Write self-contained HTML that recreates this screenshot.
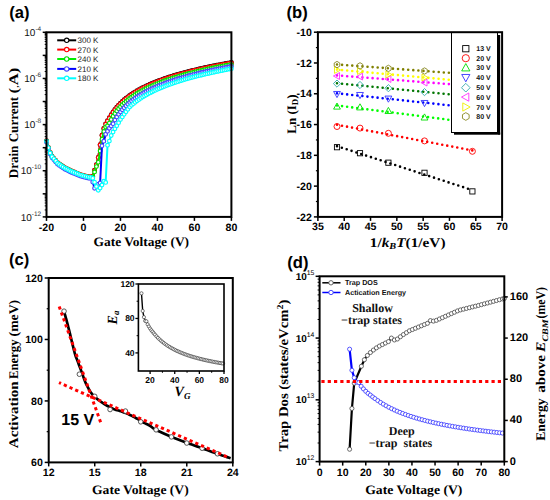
<!DOCTYPE html>
<html><head><meta charset="utf-8"><style>
html,body{margin:0;padding:0;background:#fff;}
svg{display:block;}
</style></head><body>
<svg width="550" height="500" viewBox="0 0 550 500" style="text-rendering:geometricPrecision">
<rect width="550" height="500" fill="#fff"/>
<text x="9.2" y="18.2" font-family='"Liberation Sans", sans-serif' font-size="16.6" font-weight="bold" text-anchor="start" fill="#000" >(a)</text>
<polyline points="46.5,141.21 48.35,147.83 50.2,152.98 52.05,156.67 53.9,158.83 55.74,160.98 57.59,163.14 59.44,164.41 61.29,165.69 63.14,166.96 64.99,168.16 66.84,169.07 68.69,169.98 70.54,170.9 72.39,171.75 74.23,172.52 76.08,173.29 77.93,174.06 79.78,174.83 81.63,175.35 83.48,175.86 85.33,176.36 87.18,176.86 89.03,177.28 90.88,177.53 92.72,176.25 94.57,170.29 96.42,164.64 98.27,157.39 100.12,144.69 101.97,135.2 103.82,128.57 105.67,124.02 107.52,120.79 109.37,117.77 111.22,114.63 113.06,111.85 114.91,109.37 116.76,107.13 118.61,105.08 120.46,103.19 122.31,101.45 124.16,99.82 126.01,98.3 127.86,96.87 129.7,95.53 131.55,94.25 133.4,93.05 135.25,91.9 137.1,90.8 138.95,89.76 140.8,88.75 142.65,87.79 144.5,86.87 146.35,85.98 148.19,85.12 150.04,84.3 151.89,83.5 153.74,82.73 155.59,81.98 157.44,81.25 159.29,80.55 161.14,79.87 162.99,79.2 164.84,78.56 166.69,77.93 168.53,77.32 170.38,76.72 172.23,76.14 174.08,75.57 175.93,75.02 177.78,74.48 179.63,73.95 181.48,73.43 183.33,72.93 185.18,72.43 187.02,71.94 188.87,71.47 190.72,71 192.57,70.54 194.42,70.1 196.27,69.66 198.12,69.22 199.97,68.8 201.82,68.38 203.66,67.97 205.51,67.57 207.36,67.17 209.21,66.79 211.06,66.4 212.91,66.03 214.76,65.65 216.61,65.29 218.46,64.93 220.31,64.58 222.16,64.23 224,63.88 225.85,63.54 227.7,63.21 229.55,62.88 231.4,62.56" fill="none" stroke="#000000" stroke-width="2.0" stroke-linejoin="round" />
<g fill="#fff" stroke="#000000" stroke-width="1.2">
<circle cx="46.5" cy="141.21" r="1.85"/>
<circle cx="48.35" cy="147.83" r="1.85"/>
<circle cx="50.2" cy="152.98" r="1.85"/>
<circle cx="52.05" cy="156.67" r="1.85"/>
<circle cx="53.9" cy="158.83" r="1.85"/>
<circle cx="55.74" cy="160.98" r="1.85"/>
<circle cx="57.59" cy="163.14" r="1.85"/>
<circle cx="59.44" cy="164.41" r="1.85"/>
<circle cx="61.29" cy="165.69" r="1.85"/>
<circle cx="63.14" cy="166.96" r="1.85"/>
<circle cx="64.99" cy="168.16" r="1.85"/>
<circle cx="66.84" cy="169.07" r="1.85"/>
<circle cx="68.69" cy="169.98" r="1.85"/>
<circle cx="70.54" cy="170.9" r="1.85"/>
<circle cx="72.39" cy="171.75" r="1.85"/>
<circle cx="74.23" cy="172.52" r="1.85"/>
<circle cx="76.08" cy="173.29" r="1.85"/>
<circle cx="77.93" cy="174.06" r="1.85"/>
<circle cx="79.78" cy="174.83" r="1.85"/>
<circle cx="81.63" cy="175.35" r="1.85"/>
<circle cx="83.48" cy="175.86" r="1.85"/>
<circle cx="85.33" cy="176.36" r="1.85"/>
<circle cx="87.18" cy="176.86" r="1.85"/>
<circle cx="89.03" cy="177.28" r="1.85"/>
<circle cx="90.88" cy="177.53" r="1.85"/>
<circle cx="92.72" cy="176.25" r="1.85"/>
<circle cx="94.57" cy="170.29" r="1.85"/>
<circle cx="96.42" cy="164.64" r="1.85"/>
<circle cx="98.27" cy="157.39" r="1.85"/>
<circle cx="100.12" cy="144.69" r="1.85"/>
<circle cx="101.97" cy="135.2" r="1.85"/>
<circle cx="103.82" cy="128.57" r="1.85"/>
<circle cx="105.67" cy="124.02" r="1.85"/>
<circle cx="107.52" cy="120.79" r="1.85"/>
<circle cx="109.37" cy="117.77" r="1.85"/>
<circle cx="111.22" cy="114.63" r="1.85"/>
<circle cx="113.06" cy="111.85" r="1.85"/>
<circle cx="114.91" cy="109.37" r="1.85"/>
<circle cx="116.76" cy="107.13" r="1.85"/>
<circle cx="118.61" cy="105.08" r="1.85"/>
<circle cx="120.46" cy="103.19" r="1.85"/>
<circle cx="122.31" cy="101.45" r="1.85"/>
<circle cx="124.16" cy="99.82" r="1.85"/>
<circle cx="126.01" cy="98.3" r="1.85"/>
<circle cx="127.86" cy="96.87" r="1.85"/>
<circle cx="129.7" cy="95.53" r="1.85"/>
<circle cx="131.55" cy="94.25" r="1.85"/>
<circle cx="133.4" cy="93.05" r="1.85"/>
<circle cx="135.25" cy="91.9" r="1.85"/>
<circle cx="137.1" cy="90.8" r="1.85"/>
<circle cx="138.95" cy="89.76" r="1.85"/>
<circle cx="140.8" cy="88.75" r="1.85"/>
<circle cx="142.65" cy="87.79" r="1.85"/>
<circle cx="144.5" cy="86.87" r="1.85"/>
<circle cx="146.35" cy="85.98" r="1.85"/>
<circle cx="148.19" cy="85.12" r="1.85"/>
<circle cx="150.04" cy="84.3" r="1.85"/>
<circle cx="151.89" cy="83.5" r="1.85"/>
<circle cx="153.74" cy="82.73" r="1.85"/>
<circle cx="155.59" cy="81.98" r="1.85"/>
<circle cx="157.44" cy="81.25" r="1.85"/>
<circle cx="159.29" cy="80.55" r="1.85"/>
<circle cx="161.14" cy="79.87" r="1.85"/>
<circle cx="162.99" cy="79.2" r="1.85"/>
<circle cx="164.84" cy="78.56" r="1.85"/>
<circle cx="166.69" cy="77.93" r="1.85"/>
<circle cx="168.53" cy="77.32" r="1.85"/>
<circle cx="170.38" cy="76.72" r="1.85"/>
<circle cx="172.23" cy="76.14" r="1.85"/>
<circle cx="174.08" cy="75.57" r="1.85"/>
<circle cx="175.93" cy="75.02" r="1.85"/>
<circle cx="177.78" cy="74.48" r="1.85"/>
<circle cx="179.63" cy="73.95" r="1.85"/>
<circle cx="181.48" cy="73.43" r="1.85"/>
<circle cx="183.33" cy="72.93" r="1.85"/>
<circle cx="185.18" cy="72.43" r="1.85"/>
<circle cx="187.02" cy="71.94" r="1.85"/>
<circle cx="188.87" cy="71.47" r="1.85"/>
<circle cx="190.72" cy="71" r="1.85"/>
<circle cx="192.57" cy="70.54" r="1.85"/>
<circle cx="194.42" cy="70.1" r="1.85"/>
<circle cx="196.27" cy="69.66" r="1.85"/>
<circle cx="198.12" cy="69.22" r="1.85"/>
<circle cx="199.97" cy="68.8" r="1.85"/>
<circle cx="201.82" cy="68.38" r="1.85"/>
<circle cx="203.66" cy="67.97" r="1.85"/>
<circle cx="205.51" cy="67.57" r="1.85"/>
<circle cx="207.36" cy="67.17" r="1.85"/>
<circle cx="209.21" cy="66.79" r="1.85"/>
<circle cx="211.06" cy="66.4" r="1.85"/>
<circle cx="212.91" cy="66.03" r="1.85"/>
<circle cx="214.76" cy="65.65" r="1.85"/>
<circle cx="216.61" cy="65.29" r="1.85"/>
<circle cx="218.46" cy="64.93" r="1.85"/>
<circle cx="220.31" cy="64.58" r="1.85"/>
<circle cx="222.16" cy="64.23" r="1.85"/>
<circle cx="224" cy="63.88" r="1.85"/>
<circle cx="225.85" cy="63.54" r="1.85"/>
<circle cx="227.7" cy="63.21" r="1.85"/>
<circle cx="229.55" cy="62.88" r="1.85"/>
<circle cx="231.4" cy="62.56" r="1.85"/>
</g>
<polyline points="46.5,140.75 48.35,147.37 50.2,152.52 52.05,156.21 53.9,158.37 55.74,160.52 57.59,162.67 59.44,163.95 61.29,165.22 63.14,166.5 64.99,167.7 66.84,168.61 68.69,169.52 70.54,170.43 72.39,171.29 74.23,172.06 76.08,172.83 77.93,173.6 79.78,174.37 81.63,174.89 83.48,175.4 85.33,175.9 87.18,176.4 89.03,176.82 90.88,177.07 92.72,176.1 94.57,170.52 96.42,164.87 98.27,157.62 100.12,144.92 101.97,135.43 103.82,128.8 105.67,124.25 107.52,121.09 109.37,118.23 111.22,115.09 113.06,112.31 114.91,109.83 116.76,107.59 118.61,105.54 120.46,103.65 122.31,101.91 124.16,100.28 126.01,98.76 127.86,97.34 129.7,95.99 131.55,94.72 133.4,93.51 135.25,92.36 137.1,91.26 138.95,90.22 140.8,89.21 142.65,88.25 144.5,87.33 146.35,86.44 148.19,85.58 150.04,84.76 151.89,83.96 153.74,83.19 155.59,82.44 157.44,81.71 159.29,81.01 161.14,80.33 162.99,79.67 164.84,79.02 166.69,78.39 168.53,77.78 170.38,77.18 172.23,76.6 174.08,76.04 175.93,75.48 177.78,74.94 179.63,74.41 181.48,73.89 183.33,73.39 185.18,72.89 187.02,72.41 188.87,71.93 190.72,71.46 192.57,71.01 194.42,70.56 196.27,70.12 198.12,69.68 199.97,69.26 201.82,68.84 203.66,68.43 205.51,68.03 207.36,67.64 209.21,67.25 211.06,66.86 212.91,66.49 214.76,66.12 216.61,65.75 218.46,65.39 220.31,65.04 222.16,64.69 224,64.34 225.85,64.01 227.7,63.67 229.55,63.34 231.4,63.02" fill="none" stroke="#ff0000" stroke-width="2.0" stroke-linejoin="round" />
<g fill="#fff" stroke="#ff0000" stroke-width="1.2">
<circle cx="46.5" cy="140.75" r="1.85"/>
<circle cx="48.35" cy="147.37" r="1.85"/>
<circle cx="50.2" cy="152.52" r="1.85"/>
<circle cx="52.05" cy="156.21" r="1.85"/>
<circle cx="53.9" cy="158.37" r="1.85"/>
<circle cx="55.74" cy="160.52" r="1.85"/>
<circle cx="57.59" cy="162.67" r="1.85"/>
<circle cx="59.44" cy="163.95" r="1.85"/>
<circle cx="61.29" cy="165.22" r="1.85"/>
<circle cx="63.14" cy="166.5" r="1.85"/>
<circle cx="64.99" cy="167.7" r="1.85"/>
<circle cx="66.84" cy="168.61" r="1.85"/>
<circle cx="68.69" cy="169.52" r="1.85"/>
<circle cx="70.54" cy="170.43" r="1.85"/>
<circle cx="72.39" cy="171.29" r="1.85"/>
<circle cx="74.23" cy="172.06" r="1.85"/>
<circle cx="76.08" cy="172.83" r="1.85"/>
<circle cx="77.93" cy="173.6" r="1.85"/>
<circle cx="79.78" cy="174.37" r="1.85"/>
<circle cx="81.63" cy="174.89" r="1.85"/>
<circle cx="83.48" cy="175.4" r="1.85"/>
<circle cx="85.33" cy="175.9" r="1.85"/>
<circle cx="87.18" cy="176.4" r="1.85"/>
<circle cx="89.03" cy="176.82" r="1.85"/>
<circle cx="90.88" cy="177.07" r="1.85"/>
<circle cx="92.72" cy="176.1" r="1.85"/>
<circle cx="94.57" cy="170.52" r="1.85"/>
<circle cx="96.42" cy="164.87" r="1.85"/>
<circle cx="98.27" cy="157.62" r="1.85"/>
<circle cx="100.12" cy="144.92" r="1.85"/>
<circle cx="101.97" cy="135.43" r="1.85"/>
<circle cx="103.82" cy="128.8" r="1.85"/>
<circle cx="105.67" cy="124.25" r="1.85"/>
<circle cx="107.52" cy="121.09" r="1.85"/>
<circle cx="109.37" cy="118.23" r="1.85"/>
<circle cx="111.22" cy="115.09" r="1.85"/>
<circle cx="113.06" cy="112.31" r="1.85"/>
<circle cx="114.91" cy="109.83" r="1.85"/>
<circle cx="116.76" cy="107.59" r="1.85"/>
<circle cx="118.61" cy="105.54" r="1.85"/>
<circle cx="120.46" cy="103.65" r="1.85"/>
<circle cx="122.31" cy="101.91" r="1.85"/>
<circle cx="124.16" cy="100.28" r="1.85"/>
<circle cx="126.01" cy="98.76" r="1.85"/>
<circle cx="127.86" cy="97.34" r="1.85"/>
<circle cx="129.7" cy="95.99" r="1.85"/>
<circle cx="131.55" cy="94.72" r="1.85"/>
<circle cx="133.4" cy="93.51" r="1.85"/>
<circle cx="135.25" cy="92.36" r="1.85"/>
<circle cx="137.1" cy="91.26" r="1.85"/>
<circle cx="138.95" cy="90.22" r="1.85"/>
<circle cx="140.8" cy="89.21" r="1.85"/>
<circle cx="142.65" cy="88.25" r="1.85"/>
<circle cx="144.5" cy="87.33" r="1.85"/>
<circle cx="146.35" cy="86.44" r="1.85"/>
<circle cx="148.19" cy="85.58" r="1.85"/>
<circle cx="150.04" cy="84.76" r="1.85"/>
<circle cx="151.89" cy="83.96" r="1.85"/>
<circle cx="153.74" cy="83.19" r="1.85"/>
<circle cx="155.59" cy="82.44" r="1.85"/>
<circle cx="157.44" cy="81.71" r="1.85"/>
<circle cx="159.29" cy="81.01" r="1.85"/>
<circle cx="161.14" cy="80.33" r="1.85"/>
<circle cx="162.99" cy="79.67" r="1.85"/>
<circle cx="164.84" cy="79.02" r="1.85"/>
<circle cx="166.69" cy="78.39" r="1.85"/>
<circle cx="168.53" cy="77.78" r="1.85"/>
<circle cx="170.38" cy="77.18" r="1.85"/>
<circle cx="172.23" cy="76.6" r="1.85"/>
<circle cx="174.08" cy="76.04" r="1.85"/>
<circle cx="175.93" cy="75.48" r="1.85"/>
<circle cx="177.78" cy="74.94" r="1.85"/>
<circle cx="179.63" cy="74.41" r="1.85"/>
<circle cx="181.48" cy="73.89" r="1.85"/>
<circle cx="183.33" cy="73.39" r="1.85"/>
<circle cx="185.18" cy="72.89" r="1.85"/>
<circle cx="187.02" cy="72.41" r="1.85"/>
<circle cx="188.87" cy="71.93" r="1.85"/>
<circle cx="190.72" cy="71.46" r="1.85"/>
<circle cx="192.57" cy="71.01" r="1.85"/>
<circle cx="194.42" cy="70.56" r="1.85"/>
<circle cx="196.27" cy="70.12" r="1.85"/>
<circle cx="198.12" cy="69.68" r="1.85"/>
<circle cx="199.97" cy="69.26" r="1.85"/>
<circle cx="201.82" cy="68.84" r="1.85"/>
<circle cx="203.66" cy="68.43" r="1.85"/>
<circle cx="205.51" cy="68.03" r="1.85"/>
<circle cx="207.36" cy="67.64" r="1.85"/>
<circle cx="209.21" cy="67.25" r="1.85"/>
<circle cx="211.06" cy="66.86" r="1.85"/>
<circle cx="212.91" cy="66.49" r="1.85"/>
<circle cx="214.76" cy="66.12" r="1.85"/>
<circle cx="216.61" cy="65.75" r="1.85"/>
<circle cx="218.46" cy="65.39" r="1.85"/>
<circle cx="220.31" cy="65.04" r="1.85"/>
<circle cx="222.16" cy="64.69" r="1.85"/>
<circle cx="224" cy="64.34" r="1.85"/>
<circle cx="225.85" cy="64.01" r="1.85"/>
<circle cx="227.7" cy="63.67" r="1.85"/>
<circle cx="229.55" cy="63.34" r="1.85"/>
<circle cx="231.4" cy="63.02" r="1.85"/>
</g>
<polyline points="46.5,141.21 48.35,147.83 50.2,152.98 52.05,156.67 53.9,158.83 55.74,160.98 57.59,163.14 59.44,164.41 61.29,165.69 63.14,166.96 64.99,168.16 66.84,169.07 68.69,169.98 70.54,170.9 72.39,171.75 74.23,172.52 76.08,173.29 77.93,174.06 79.78,174.83 81.63,175.35 83.48,175.86 85.33,176.36 87.18,176.86 89.03,177.28 90.88,177.53 92.72,176.9 94.57,171.9 96.42,166.58 98.27,162.33 100.12,151.07 101.97,139.33 103.82,131.47 105.67,127.1 107.52,125.74 109.37,123.1 111.22,119.45 113.06,116.29 114.91,113.5 116.76,111.02 118.61,108.77 120.46,106.71 122.31,104.82 124.16,103.08 126.01,101.45 127.86,99.93 129.7,98.5 131.55,97.15 133.4,95.88 135.25,94.67 137.1,93.52 138.95,92.42 140.8,91.38 142.65,90.37 144.5,89.41 146.35,88.49 148.19,87.6 150.04,86.74 151.89,85.92 153.74,85.12 155.59,84.34 157.44,83.6 159.29,82.87 161.14,82.17 162.99,81.49 164.84,80.82 166.69,80.18 168.53,79.55 170.38,78.94 172.23,78.34 174.08,77.76 175.93,77.19 177.78,76.64 179.63,76.1 181.48,75.57 183.33,75.05 185.18,74.54 187.02,74.05 188.87,73.56 190.72,73.08 192.57,72.62 194.42,72.16 196.27,71.71 198.12,71.27 199.97,70.84 201.82,70.42 203.66,70 205.51,69.59 207.36,69.19 209.21,68.79 211.06,68.4 212.91,68.02 214.76,67.64 216.61,67.27 218.46,66.91 220.31,66.55 222.16,66.19 224,65.84 225.85,65.5 227.7,65.16 229.55,64.83 231.4,64.66" fill="none" stroke="#00ee00" stroke-width="2.0" stroke-linejoin="round" />
<g fill="#fff" stroke="#00e000" stroke-width="1.2">
<circle cx="46.5" cy="141.21" r="1.85"/>
<circle cx="48.35" cy="147.83" r="1.85"/>
<circle cx="50.2" cy="152.98" r="1.85"/>
<circle cx="52.05" cy="156.67" r="1.85"/>
<circle cx="53.9" cy="158.83" r="1.85"/>
<circle cx="55.74" cy="160.98" r="1.85"/>
<circle cx="57.59" cy="163.14" r="1.85"/>
<circle cx="59.44" cy="164.41" r="1.85"/>
<circle cx="61.29" cy="165.69" r="1.85"/>
<circle cx="63.14" cy="166.96" r="1.85"/>
<circle cx="64.99" cy="168.16" r="1.85"/>
<circle cx="66.84" cy="169.07" r="1.85"/>
<circle cx="68.69" cy="169.98" r="1.85"/>
<circle cx="70.54" cy="170.9" r="1.85"/>
<circle cx="72.39" cy="171.75" r="1.85"/>
<circle cx="74.23" cy="172.52" r="1.85"/>
<circle cx="76.08" cy="173.29" r="1.85"/>
<circle cx="77.93" cy="174.06" r="1.85"/>
<circle cx="79.78" cy="174.83" r="1.85"/>
<circle cx="81.63" cy="175.35" r="1.85"/>
<circle cx="83.48" cy="175.86" r="1.85"/>
<circle cx="85.33" cy="176.36" r="1.85"/>
<circle cx="87.18" cy="176.86" r="1.85"/>
<circle cx="89.03" cy="177.28" r="1.85"/>
<circle cx="90.88" cy="177.53" r="1.85"/>
<circle cx="92.72" cy="176.9" r="1.85"/>
<circle cx="94.57" cy="171.9" r="1.85"/>
<circle cx="96.42" cy="166.58" r="1.85"/>
<circle cx="98.27" cy="162.33" r="1.85"/>
<circle cx="100.12" cy="151.07" r="1.85"/>
<circle cx="101.97" cy="139.33" r="1.85"/>
<circle cx="103.82" cy="131.47" r="1.85"/>
<circle cx="105.67" cy="127.1" r="1.85"/>
<circle cx="107.52" cy="125.74" r="1.85"/>
<circle cx="109.37" cy="123.1" r="1.85"/>
<circle cx="111.22" cy="119.45" r="1.85"/>
<circle cx="113.06" cy="116.29" r="1.85"/>
<circle cx="114.91" cy="113.5" r="1.85"/>
<circle cx="116.76" cy="111.02" r="1.85"/>
<circle cx="118.61" cy="108.77" r="1.85"/>
<circle cx="120.46" cy="106.71" r="1.85"/>
<circle cx="122.31" cy="104.82" r="1.85"/>
<circle cx="124.16" cy="103.08" r="1.85"/>
<circle cx="126.01" cy="101.45" r="1.85"/>
<circle cx="127.86" cy="99.93" r="1.85"/>
<circle cx="129.7" cy="98.5" r="1.85"/>
<circle cx="131.55" cy="97.15" r="1.85"/>
<circle cx="133.4" cy="95.88" r="1.85"/>
<circle cx="135.25" cy="94.67" r="1.85"/>
<circle cx="137.1" cy="93.52" r="1.85"/>
<circle cx="138.95" cy="92.42" r="1.85"/>
<circle cx="140.8" cy="91.38" r="1.85"/>
<circle cx="142.65" cy="90.37" r="1.85"/>
<circle cx="144.5" cy="89.41" r="1.85"/>
<circle cx="146.35" cy="88.49" r="1.85"/>
<circle cx="148.19" cy="87.6" r="1.85"/>
<circle cx="150.04" cy="86.74" r="1.85"/>
<circle cx="151.89" cy="85.92" r="1.85"/>
<circle cx="153.74" cy="85.12" r="1.85"/>
<circle cx="155.59" cy="84.34" r="1.85"/>
<circle cx="157.44" cy="83.6" r="1.85"/>
<circle cx="159.29" cy="82.87" r="1.85"/>
<circle cx="161.14" cy="82.17" r="1.85"/>
<circle cx="162.99" cy="81.49" r="1.85"/>
<circle cx="164.84" cy="80.82" r="1.85"/>
<circle cx="166.69" cy="80.18" r="1.85"/>
<circle cx="168.53" cy="79.55" r="1.85"/>
<circle cx="170.38" cy="78.94" r="1.85"/>
<circle cx="172.23" cy="78.34" r="1.85"/>
<circle cx="174.08" cy="77.76" r="1.85"/>
<circle cx="175.93" cy="77.19" r="1.85"/>
<circle cx="177.78" cy="76.64" r="1.85"/>
<circle cx="179.63" cy="76.1" r="1.85"/>
<circle cx="181.48" cy="75.57" r="1.85"/>
<circle cx="183.33" cy="75.05" r="1.85"/>
<circle cx="185.18" cy="74.54" r="1.85"/>
<circle cx="187.02" cy="74.05" r="1.85"/>
<circle cx="188.87" cy="73.56" r="1.85"/>
<circle cx="190.72" cy="73.08" r="1.85"/>
<circle cx="192.57" cy="72.62" r="1.85"/>
<circle cx="194.42" cy="72.16" r="1.85"/>
<circle cx="196.27" cy="71.71" r="1.85"/>
<circle cx="198.12" cy="71.27" r="1.85"/>
<circle cx="199.97" cy="70.84" r="1.85"/>
<circle cx="201.82" cy="70.42" r="1.85"/>
<circle cx="203.66" cy="70" r="1.85"/>
<circle cx="205.51" cy="69.59" r="1.85"/>
<circle cx="207.36" cy="69.19" r="1.85"/>
<circle cx="209.21" cy="68.79" r="1.85"/>
<circle cx="211.06" cy="68.4" r="1.85"/>
<circle cx="212.91" cy="68.02" r="1.85"/>
<circle cx="214.76" cy="67.64" r="1.85"/>
<circle cx="216.61" cy="67.27" r="1.85"/>
<circle cx="218.46" cy="66.91" r="1.85"/>
<circle cx="220.31" cy="66.55" r="1.85"/>
<circle cx="222.16" cy="66.19" r="1.85"/>
<circle cx="224" cy="65.84" r="1.85"/>
<circle cx="225.85" cy="65.5" r="1.85"/>
<circle cx="227.7" cy="65.16" r="1.85"/>
<circle cx="229.55" cy="64.83" r="1.85"/>
<circle cx="231.4" cy="64.66" r="1.85"/>
</g>
<polyline points="46.5,142.25 48.35,148.87 50.2,154.02 52.05,157.71 53.9,159.87 55.74,162.02 57.59,164.17 59.44,165.45 61.29,166.72 63.14,168 64.99,169.2 66.84,170.11 68.69,171.02 70.54,171.93 72.39,172.79 74.23,173.56 76.08,174.33 77.93,175.1 79.78,175.86 81.63,176.39 83.48,176.89 85.33,177.4 87.18,177.9 89.03,178.23 90.88,178.17 92.72,182.08 94.57,188.2 96.42,186.04 98.27,184.31 100.12,183 101.97,145.86 103.82,141.14 105.67,134.37 107.52,131.29 109.37,128.29 111.22,125.96 113.06,123.63 114.91,120.11 116.76,117.04 118.61,114.33 120.46,111.9 122.31,109.7 124.16,107.69 126.01,105.83 127.86,104.11 129.7,102.51 131.55,101.01 133.4,99.6 135.25,98.27 137.1,97.01 138.95,95.81 140.8,94.67 142.65,93.59 144.5,92.55 146.35,91.56 148.19,90.6 150.04,89.69 151.89,88.81 153.74,87.95 155.59,87.13 157.44,86.34 159.29,85.57 161.14,84.83 162.99,84.11 164.84,83.41 166.69,82.73 168.53,82.07 170.38,81.43 172.23,80.81 174.08,80.2 175.93,79.61 177.78,79.03 179.63,78.46 181.48,77.91 183.33,77.37 185.18,76.84 187.02,76.33 188.87,75.82 190.72,75.33 192.57,74.85 194.42,74.37 196.27,73.91 198.12,73.45 199.97,73.01 201.82,72.57 203.66,72.14 205.51,71.71 207.36,71.3 209.21,70.89 211.06,70.49 212.91,70.1 214.76,69.71 216.61,69.33 218.46,68.95 220.31,68.58 222.16,68.22 224,67.86 225.85,67.51 227.7,67.16 229.55,66.81 231.4,66.48" fill="none" stroke="#0000ff" stroke-width="2.0" stroke-linejoin="round" />
<g fill="#fff" stroke="#4848ff" stroke-width="1.2">
<circle cx="46.5" cy="142.25" r="1.85"/>
<circle cx="48.35" cy="148.87" r="1.85"/>
<circle cx="50.2" cy="154.02" r="1.85"/>
<circle cx="52.05" cy="157.71" r="1.85"/>
<circle cx="53.9" cy="159.87" r="1.85"/>
<circle cx="55.74" cy="162.02" r="1.85"/>
<circle cx="57.59" cy="164.17" r="1.85"/>
<circle cx="59.44" cy="165.45" r="1.85"/>
<circle cx="61.29" cy="166.72" r="1.85"/>
<circle cx="63.14" cy="168" r="1.85"/>
<circle cx="64.99" cy="169.2" r="1.85"/>
<circle cx="66.84" cy="170.11" r="1.85"/>
<circle cx="68.69" cy="171.02" r="1.85"/>
<circle cx="70.54" cy="171.93" r="1.85"/>
<circle cx="72.39" cy="172.79" r="1.85"/>
<circle cx="74.23" cy="173.56" r="1.85"/>
<circle cx="76.08" cy="174.33" r="1.85"/>
<circle cx="77.93" cy="175.1" r="1.85"/>
<circle cx="79.78" cy="175.86" r="1.85"/>
<circle cx="81.63" cy="176.39" r="1.85"/>
<circle cx="83.48" cy="176.89" r="1.85"/>
<circle cx="85.33" cy="177.4" r="1.85"/>
<circle cx="87.18" cy="177.9" r="1.85"/>
<circle cx="89.03" cy="178.23" r="1.85"/>
<circle cx="90.88" cy="178.17" r="1.85"/>
<circle cx="92.72" cy="182.08" r="1.85"/>
<circle cx="94.57" cy="188.2" r="1.85"/>
<circle cx="96.42" cy="186.04" r="1.85"/>
<circle cx="98.27" cy="184.31" r="1.85"/>
<circle cx="100.12" cy="183" r="1.85"/>
<circle cx="101.97" cy="145.86" r="1.85"/>
<circle cx="103.82" cy="141.14" r="1.85"/>
<circle cx="105.67" cy="134.37" r="1.85"/>
<circle cx="107.52" cy="131.29" r="1.85"/>
<circle cx="109.37" cy="128.29" r="1.85"/>
<circle cx="111.22" cy="125.96" r="1.85"/>
<circle cx="113.06" cy="123.63" r="1.85"/>
<circle cx="114.91" cy="120.11" r="1.85"/>
<circle cx="116.76" cy="117.04" r="1.85"/>
<circle cx="118.61" cy="114.33" r="1.85"/>
<circle cx="120.46" cy="111.9" r="1.85"/>
<circle cx="122.31" cy="109.7" r="1.85"/>
<circle cx="124.16" cy="107.69" r="1.85"/>
<circle cx="126.01" cy="105.83" r="1.85"/>
<circle cx="127.86" cy="104.11" r="1.85"/>
<circle cx="129.7" cy="102.51" r="1.85"/>
<circle cx="131.55" cy="101.01" r="1.85"/>
<circle cx="133.4" cy="99.6" r="1.85"/>
<circle cx="135.25" cy="98.27" r="1.85"/>
<circle cx="137.1" cy="97.01" r="1.85"/>
<circle cx="138.95" cy="95.81" r="1.85"/>
<circle cx="140.8" cy="94.67" r="1.85"/>
<circle cx="142.65" cy="93.59" r="1.85"/>
<circle cx="144.5" cy="92.55" r="1.85"/>
<circle cx="146.35" cy="91.56" r="1.85"/>
<circle cx="148.19" cy="90.6" r="1.85"/>
<circle cx="150.04" cy="89.69" r="1.85"/>
<circle cx="151.89" cy="88.81" r="1.85"/>
<circle cx="153.74" cy="87.95" r="1.85"/>
<circle cx="155.59" cy="87.13" r="1.85"/>
<circle cx="157.44" cy="86.34" r="1.85"/>
<circle cx="159.29" cy="85.57" r="1.85"/>
<circle cx="161.14" cy="84.83" r="1.85"/>
<circle cx="162.99" cy="84.11" r="1.85"/>
<circle cx="164.84" cy="83.41" r="1.85"/>
<circle cx="166.69" cy="82.73" r="1.85"/>
<circle cx="168.53" cy="82.07" r="1.85"/>
<circle cx="170.38" cy="81.43" r="1.85"/>
<circle cx="172.23" cy="80.81" r="1.85"/>
<circle cx="174.08" cy="80.2" r="1.85"/>
<circle cx="175.93" cy="79.61" r="1.85"/>
<circle cx="177.78" cy="79.03" r="1.85"/>
<circle cx="179.63" cy="78.46" r="1.85"/>
<circle cx="181.48" cy="77.91" r="1.85"/>
<circle cx="183.33" cy="77.37" r="1.85"/>
<circle cx="185.18" cy="76.84" r="1.85"/>
<circle cx="187.02" cy="76.33" r="1.85"/>
<circle cx="188.87" cy="75.82" r="1.85"/>
<circle cx="190.72" cy="75.33" r="1.85"/>
<circle cx="192.57" cy="74.85" r="1.85"/>
<circle cx="194.42" cy="74.37" r="1.85"/>
<circle cx="196.27" cy="73.91" r="1.85"/>
<circle cx="198.12" cy="73.45" r="1.85"/>
<circle cx="199.97" cy="73.01" r="1.85"/>
<circle cx="201.82" cy="72.57" r="1.85"/>
<circle cx="203.66" cy="72.14" r="1.85"/>
<circle cx="205.51" cy="71.71" r="1.85"/>
<circle cx="207.36" cy="71.3" r="1.85"/>
<circle cx="209.21" cy="70.89" r="1.85"/>
<circle cx="211.06" cy="70.49" r="1.85"/>
<circle cx="212.91" cy="70.1" r="1.85"/>
<circle cx="214.76" cy="69.71" r="1.85"/>
<circle cx="216.61" cy="69.33" r="1.85"/>
<circle cx="218.46" cy="68.95" r="1.85"/>
<circle cx="220.31" cy="68.58" r="1.85"/>
<circle cx="222.16" cy="68.22" r="1.85"/>
<circle cx="224" cy="67.86" r="1.85"/>
<circle cx="225.85" cy="67.51" r="1.85"/>
<circle cx="227.7" cy="67.16" r="1.85"/>
<circle cx="229.55" cy="66.81" r="1.85"/>
<circle cx="231.4" cy="66.48" r="1.85"/>
</g>
<polyline points="46.5,141.21 48.35,147.83 50.2,152.98 52.05,156.67 53.9,158.83 55.74,160.98 57.59,163.14 59.44,164.41 61.29,165.69 63.14,166.96 64.99,168.16 66.84,169.07 68.69,169.98 70.54,170.9 72.39,171.75 74.23,172.52 76.08,173.29 77.93,174.06 79.78,174.83 81.63,175.35 83.48,175.86 85.33,176.36 87.18,176.86 89.03,177.28 90.88,177.53 92.72,178.27 94.57,182.25 96.42,186.57 98.27,190.36 100.12,188.06 101.97,185.03 103.82,181.29 105.67,182.38 107.52,145.16 109.37,141.11 111.22,135.46 113.06,132.07 114.91,128.86 116.76,125.82 118.61,122.67 120.46,119.52 122.31,116.92 124.16,114.31 126.01,111.81 127.86,109.36 129.7,106.92 131.55,105.24 133.4,103.66 135.25,102.19 137.1,100.81 138.95,99.5 140.8,98.26 142.65,97.08 144.5,95.96 146.35,94.89 148.19,93.86 150.04,92.88 151.89,91.94 153.74,91.03 155.59,90.16 157.44,89.32 159.29,88.51 161.14,87.72 162.99,86.96 164.84,86.23 166.69,85.51 168.53,84.82 170.38,84.15 172.23,83.49 174.08,82.86 175.93,82.24 177.78,81.63 179.63,81.05 181.48,80.47 183.33,79.91 185.18,79.36 187.02,78.83 188.87,78.3 190.72,77.79 192.57,77.29 194.42,76.8 196.27,76.32 198.12,75.85 199.97,75.39 201.82,74.93 203.66,74.49 205.51,74.05 207.36,73.63 209.21,73.2 211.06,72.79 212.91,72.39 214.76,71.99 216.61,71.59 218.46,71.21 220.31,70.83 222.16,70.45 224,70.09 225.85,69.72 227.7,69.37 229.55,69.02 231.4,68.67" fill="none" stroke="#00ffff" stroke-width="2.0" stroke-linejoin="round" />
<g fill="#fff" stroke="#00ffff" stroke-width="1.2">
<circle cx="46.5" cy="141.21" r="1.85"/>
<circle cx="48.35" cy="147.83" r="1.85"/>
<circle cx="50.2" cy="152.98" r="1.85"/>
<circle cx="52.05" cy="156.67" r="1.85"/>
<circle cx="53.9" cy="158.83" r="1.85"/>
<circle cx="55.74" cy="160.98" r="1.85"/>
<circle cx="57.59" cy="163.14" r="1.85"/>
<circle cx="59.44" cy="164.41" r="1.85"/>
<circle cx="61.29" cy="165.69" r="1.85"/>
<circle cx="63.14" cy="166.96" r="1.85"/>
<circle cx="64.99" cy="168.16" r="1.85"/>
<circle cx="66.84" cy="169.07" r="1.85"/>
<circle cx="68.69" cy="169.98" r="1.85"/>
<circle cx="70.54" cy="170.9" r="1.85"/>
<circle cx="72.39" cy="171.75" r="1.85"/>
<circle cx="74.23" cy="172.52" r="1.85"/>
<circle cx="76.08" cy="173.29" r="1.85"/>
<circle cx="77.93" cy="174.06" r="1.85"/>
<circle cx="79.78" cy="174.83" r="1.85"/>
<circle cx="81.63" cy="175.35" r="1.85"/>
<circle cx="83.48" cy="175.86" r="1.85"/>
<circle cx="85.33" cy="176.36" r="1.85"/>
<circle cx="87.18" cy="176.86" r="1.85"/>
<circle cx="89.03" cy="177.28" r="1.85"/>
<circle cx="90.88" cy="177.53" r="1.85"/>
<circle cx="92.72" cy="178.27" r="1.85"/>
<circle cx="94.57" cy="182.25" r="1.85"/>
<circle cx="96.42" cy="186.57" r="1.85"/>
<circle cx="98.27" cy="190.36" r="1.85"/>
<circle cx="100.12" cy="188.06" r="1.85"/>
<circle cx="101.97" cy="185.03" r="1.85"/>
<circle cx="103.82" cy="181.29" r="1.85"/>
<circle cx="105.67" cy="182.38" r="1.85"/>
<circle cx="107.52" cy="145.16" r="1.85"/>
<circle cx="109.37" cy="141.11" r="1.85"/>
<circle cx="111.22" cy="135.46" r="1.85"/>
<circle cx="113.06" cy="132.07" r="1.85"/>
<circle cx="114.91" cy="128.86" r="1.85"/>
<circle cx="116.76" cy="125.82" r="1.85"/>
<circle cx="118.61" cy="122.67" r="1.85"/>
<circle cx="120.46" cy="119.52" r="1.85"/>
<circle cx="122.31" cy="116.92" r="1.85"/>
<circle cx="124.16" cy="114.31" r="1.85"/>
<circle cx="126.01" cy="111.81" r="1.85"/>
<circle cx="127.86" cy="109.36" r="1.85"/>
<circle cx="129.7" cy="106.92" r="1.85"/>
<circle cx="131.55" cy="105.24" r="1.85"/>
<circle cx="133.4" cy="103.66" r="1.85"/>
<circle cx="135.25" cy="102.19" r="1.85"/>
<circle cx="137.1" cy="100.81" r="1.85"/>
<circle cx="138.95" cy="99.5" r="1.85"/>
<circle cx="140.8" cy="98.26" r="1.85"/>
<circle cx="142.65" cy="97.08" r="1.85"/>
<circle cx="144.5" cy="95.96" r="1.85"/>
<circle cx="146.35" cy="94.89" r="1.85"/>
<circle cx="148.19" cy="93.86" r="1.85"/>
<circle cx="150.04" cy="92.88" r="1.85"/>
<circle cx="151.89" cy="91.94" r="1.85"/>
<circle cx="153.74" cy="91.03" r="1.85"/>
<circle cx="155.59" cy="90.16" r="1.85"/>
<circle cx="157.44" cy="89.32" r="1.85"/>
<circle cx="159.29" cy="88.51" r="1.85"/>
<circle cx="161.14" cy="87.72" r="1.85"/>
<circle cx="162.99" cy="86.96" r="1.85"/>
<circle cx="164.84" cy="86.23" r="1.85"/>
<circle cx="166.69" cy="85.51" r="1.85"/>
<circle cx="168.53" cy="84.82" r="1.85"/>
<circle cx="170.38" cy="84.15" r="1.85"/>
<circle cx="172.23" cy="83.49" r="1.85"/>
<circle cx="174.08" cy="82.86" r="1.85"/>
<circle cx="175.93" cy="82.24" r="1.85"/>
<circle cx="177.78" cy="81.63" r="1.85"/>
<circle cx="179.63" cy="81.05" r="1.85"/>
<circle cx="181.48" cy="80.47" r="1.85"/>
<circle cx="183.33" cy="79.91" r="1.85"/>
<circle cx="185.18" cy="79.36" r="1.85"/>
<circle cx="187.02" cy="78.83" r="1.85"/>
<circle cx="188.87" cy="78.3" r="1.85"/>
<circle cx="190.72" cy="77.79" r="1.85"/>
<circle cx="192.57" cy="77.29" r="1.85"/>
<circle cx="194.42" cy="76.8" r="1.85"/>
<circle cx="196.27" cy="76.32" r="1.85"/>
<circle cx="198.12" cy="75.85" r="1.85"/>
<circle cx="199.97" cy="75.39" r="1.85"/>
<circle cx="201.82" cy="74.93" r="1.85"/>
<circle cx="203.66" cy="74.49" r="1.85"/>
<circle cx="205.51" cy="74.05" r="1.85"/>
<circle cx="207.36" cy="73.63" r="1.85"/>
<circle cx="209.21" cy="73.2" r="1.85"/>
<circle cx="211.06" cy="72.79" r="1.85"/>
<circle cx="212.91" cy="72.39" r="1.85"/>
<circle cx="214.76" cy="71.99" r="1.85"/>
<circle cx="216.61" cy="71.59" r="1.85"/>
<circle cx="218.46" cy="71.21" r="1.85"/>
<circle cx="220.31" cy="70.83" r="1.85"/>
<circle cx="222.16" cy="70.45" r="1.85"/>
<circle cx="224" cy="70.09" r="1.85"/>
<circle cx="225.85" cy="69.72" r="1.85"/>
<circle cx="227.7" cy="69.37" r="1.85"/>
<circle cx="229.55" cy="69.02" r="1.85"/>
<circle cx="231.4" cy="68.67" r="1.85"/>
</g>
<rect x="46.5" y="32.3" width="184.9" height="184.6" fill="none" stroke="#000" stroke-width="2"/>
<line x1="46.5" y1="216.9" x2="46.5" y2="220.9" stroke="#000" stroke-width="1.5" />
<text x="46.5" y="230.6" font-family='"Liberation Sans", sans-serif' font-size="10.6" font-weight="bold" text-anchor="middle" fill="#000" >-20</text>
<line x1="83.48" y1="216.9" x2="83.48" y2="220.9" stroke="#000" stroke-width="1.5" />
<text x="83.48" y="230.6" font-family='"Liberation Sans", sans-serif' font-size="10.6" font-weight="bold" text-anchor="middle" fill="#000" >0</text>
<line x1="120.46" y1="216.9" x2="120.46" y2="220.9" stroke="#000" stroke-width="1.5" />
<text x="120.46" y="230.6" font-family='"Liberation Sans", sans-serif' font-size="10.6" font-weight="bold" text-anchor="middle" fill="#000" >20</text>
<line x1="157.44" y1="216.9" x2="157.44" y2="220.9" stroke="#000" stroke-width="1.5" />
<text x="157.44" y="230.6" font-family='"Liberation Sans", sans-serif' font-size="10.6" font-weight="bold" text-anchor="middle" fill="#000" >40</text>
<line x1="194.42" y1="216.9" x2="194.42" y2="220.9" stroke="#000" stroke-width="1.5" />
<text x="194.42" y="230.6" font-family='"Liberation Sans", sans-serif' font-size="10.6" font-weight="bold" text-anchor="middle" fill="#000" >60</text>
<line x1="231.4" y1="216.9" x2="231.4" y2="220.9" stroke="#000" stroke-width="1.5" />
<text x="231.4" y="230.6" font-family='"Liberation Sans", sans-serif' font-size="10.6" font-weight="bold" text-anchor="middle" fill="#000" >80</text>
<line x1="42.7" y1="216.9" x2="46.5" y2="216.9" stroke="#000" stroke-width="1.5" />
<line x1="44.7" y1="209.95" x2="46.5" y2="209.95" stroke="#000" stroke-width="1" />
<line x1="44.7" y1="205.89" x2="46.5" y2="205.89" stroke="#000" stroke-width="1" />
<line x1="44.7" y1="203.01" x2="46.5" y2="203.01" stroke="#000" stroke-width="1" />
<line x1="44.7" y1="200.77" x2="46.5" y2="200.77" stroke="#000" stroke-width="1" />
<line x1="44.7" y1="198.94" x2="46.5" y2="198.94" stroke="#000" stroke-width="1" />
<line x1="44.7" y1="197.4" x2="46.5" y2="197.4" stroke="#000" stroke-width="1" />
<line x1="44.7" y1="196.06" x2="46.5" y2="196.06" stroke="#000" stroke-width="1" />
<line x1="44.7" y1="194.88" x2="46.5" y2="194.88" stroke="#000" stroke-width="1" />
<line x1="42.7" y1="193.83" x2="46.5" y2="193.83" stroke="#000" stroke-width="1.5" />
<line x1="44.7" y1="186.88" x2="46.5" y2="186.88" stroke="#000" stroke-width="1" />
<line x1="44.7" y1="182.82" x2="46.5" y2="182.82" stroke="#000" stroke-width="1" />
<line x1="44.7" y1="179.93" x2="46.5" y2="179.93" stroke="#000" stroke-width="1" />
<line x1="44.7" y1="177.7" x2="46.5" y2="177.7" stroke="#000" stroke-width="1" />
<line x1="44.7" y1="175.87" x2="46.5" y2="175.87" stroke="#000" stroke-width="1" />
<line x1="44.7" y1="174.32" x2="46.5" y2="174.32" stroke="#000" stroke-width="1" />
<line x1="44.7" y1="172.99" x2="46.5" y2="172.99" stroke="#000" stroke-width="1" />
<line x1="44.7" y1="171.81" x2="46.5" y2="171.81" stroke="#000" stroke-width="1" />
<line x1="42.7" y1="170.75" x2="46.5" y2="170.75" stroke="#000" stroke-width="1.5" />
<line x1="44.7" y1="163.8" x2="46.5" y2="163.8" stroke="#000" stroke-width="1" />
<line x1="44.7" y1="159.74" x2="46.5" y2="159.74" stroke="#000" stroke-width="1" />
<line x1="44.7" y1="156.86" x2="46.5" y2="156.86" stroke="#000" stroke-width="1" />
<line x1="44.7" y1="154.62" x2="46.5" y2="154.62" stroke="#000" stroke-width="1" />
<line x1="44.7" y1="152.79" x2="46.5" y2="152.79" stroke="#000" stroke-width="1" />
<line x1="44.7" y1="151.25" x2="46.5" y2="151.25" stroke="#000" stroke-width="1" />
<line x1="44.7" y1="149.91" x2="46.5" y2="149.91" stroke="#000" stroke-width="1" />
<line x1="44.7" y1="148.73" x2="46.5" y2="148.73" stroke="#000" stroke-width="1" />
<line x1="42.7" y1="147.68" x2="46.5" y2="147.68" stroke="#000" stroke-width="1.5" />
<line x1="44.7" y1="140.73" x2="46.5" y2="140.73" stroke="#000" stroke-width="1" />
<line x1="44.7" y1="136.67" x2="46.5" y2="136.67" stroke="#000" stroke-width="1" />
<line x1="44.7" y1="133.78" x2="46.5" y2="133.78" stroke="#000" stroke-width="1" />
<line x1="44.7" y1="131.55" x2="46.5" y2="131.55" stroke="#000" stroke-width="1" />
<line x1="44.7" y1="129.72" x2="46.5" y2="129.72" stroke="#000" stroke-width="1" />
<line x1="44.7" y1="128.17" x2="46.5" y2="128.17" stroke="#000" stroke-width="1" />
<line x1="44.7" y1="126.84" x2="46.5" y2="126.84" stroke="#000" stroke-width="1" />
<line x1="44.7" y1="125.66" x2="46.5" y2="125.66" stroke="#000" stroke-width="1" />
<line x1="42.7" y1="124.6" x2="46.5" y2="124.6" stroke="#000" stroke-width="1.5" />
<line x1="44.7" y1="117.65" x2="46.5" y2="117.65" stroke="#000" stroke-width="1" />
<line x1="44.7" y1="113.59" x2="46.5" y2="113.59" stroke="#000" stroke-width="1" />
<line x1="44.7" y1="110.71" x2="46.5" y2="110.71" stroke="#000" stroke-width="1" />
<line x1="44.7" y1="108.47" x2="46.5" y2="108.47" stroke="#000" stroke-width="1" />
<line x1="44.7" y1="106.64" x2="46.5" y2="106.64" stroke="#000" stroke-width="1" />
<line x1="44.7" y1="105.1" x2="46.5" y2="105.1" stroke="#000" stroke-width="1" />
<line x1="44.7" y1="103.76" x2="46.5" y2="103.76" stroke="#000" stroke-width="1" />
<line x1="44.7" y1="102.58" x2="46.5" y2="102.58" stroke="#000" stroke-width="1" />
<line x1="42.7" y1="101.53" x2="46.5" y2="101.53" stroke="#000" stroke-width="1.5" />
<line x1="44.7" y1="94.58" x2="46.5" y2="94.58" stroke="#000" stroke-width="1" />
<line x1="44.7" y1="90.52" x2="46.5" y2="90.52" stroke="#000" stroke-width="1" />
<line x1="44.7" y1="87.63" x2="46.5" y2="87.63" stroke="#000" stroke-width="1" />
<line x1="44.7" y1="85.4" x2="46.5" y2="85.4" stroke="#000" stroke-width="1" />
<line x1="44.7" y1="83.57" x2="46.5" y2="83.57" stroke="#000" stroke-width="1" />
<line x1="44.7" y1="82.02" x2="46.5" y2="82.02" stroke="#000" stroke-width="1" />
<line x1="44.7" y1="80.69" x2="46.5" y2="80.69" stroke="#000" stroke-width="1" />
<line x1="44.7" y1="79.51" x2="46.5" y2="79.51" stroke="#000" stroke-width="1" />
<line x1="42.7" y1="78.45" x2="46.5" y2="78.45" stroke="#000" stroke-width="1.5" />
<line x1="44.7" y1="71.5" x2="46.5" y2="71.5" stroke="#000" stroke-width="1" />
<line x1="44.7" y1="67.44" x2="46.5" y2="67.44" stroke="#000" stroke-width="1" />
<line x1="44.7" y1="64.56" x2="46.5" y2="64.56" stroke="#000" stroke-width="1" />
<line x1="44.7" y1="62.32" x2="46.5" y2="62.32" stroke="#000" stroke-width="1" />
<line x1="44.7" y1="60.49" x2="46.5" y2="60.49" stroke="#000" stroke-width="1" />
<line x1="44.7" y1="58.95" x2="46.5" y2="58.95" stroke="#000" stroke-width="1" />
<line x1="44.7" y1="57.61" x2="46.5" y2="57.61" stroke="#000" stroke-width="1" />
<line x1="44.7" y1="56.43" x2="46.5" y2="56.43" stroke="#000" stroke-width="1" />
<line x1="42.7" y1="55.38" x2="46.5" y2="55.38" stroke="#000" stroke-width="1.5" />
<line x1="44.7" y1="48.43" x2="46.5" y2="48.43" stroke="#000" stroke-width="1" />
<line x1="44.7" y1="44.37" x2="46.5" y2="44.37" stroke="#000" stroke-width="1" />
<line x1="44.7" y1="41.48" x2="46.5" y2="41.48" stroke="#000" stroke-width="1" />
<line x1="44.7" y1="39.25" x2="46.5" y2="39.25" stroke="#000" stroke-width="1" />
<line x1="44.7" y1="37.42" x2="46.5" y2="37.42" stroke="#000" stroke-width="1" />
<line x1="44.7" y1="35.87" x2="46.5" y2="35.87" stroke="#000" stroke-width="1" />
<line x1="44.7" y1="34.54" x2="46.5" y2="34.54" stroke="#000" stroke-width="1" />
<line x1="44.7" y1="33.36" x2="46.5" y2="33.36" stroke="#000" stroke-width="1" />
<line x1="42.7" y1="32.3" x2="46.5" y2="32.3" stroke="#000" stroke-width="1.5" />
<text x="41.2" y="35.9" font-family='"Liberation Sans", sans-serif' font-size="10" font-weight="normal" text-anchor="end" fill="#111">10<tspan font-size="6.5" dy="-5" fill="#333">-4</tspan></text>
<text x="41.2" y="82.05" font-family='"Liberation Sans", sans-serif' font-size="10" font-weight="normal" text-anchor="end" fill="#111">10<tspan font-size="6.5" dy="-5" fill="#333">-6</tspan></text>
<text x="41.2" y="128.2" font-family='"Liberation Sans", sans-serif' font-size="10" font-weight="normal" text-anchor="end" fill="#111">10<tspan font-size="6.5" dy="-5" fill="#333">-8</tspan></text>
<text x="41.2" y="174.35" font-family='"Liberation Sans", sans-serif' font-size="10" font-weight="normal" text-anchor="end" fill="#111">10<tspan font-size="6.5" dy="-5" fill="#333">-10</tspan></text>
<text x="41.2" y="220.5" font-family='"Liberation Sans", sans-serif' font-size="10" font-weight="normal" text-anchor="end" fill="#111">10<tspan font-size="6.5" dy="-5" fill="#333">-12</tspan></text>
<line x1="57.2" y1="40.3" x2="76.2" y2="40.3" stroke="#000000" stroke-width="2" />
<circle cx="66.7" cy="40.3" r="2.2" fill="#fff" stroke="#000000" stroke-width="1.1"/>
<text x="77.5" y="43.2" font-family='"Liberation Sans", sans-serif' font-size="8" font-weight="normal" text-anchor="start" fill="#222" >300 K</text>
<line x1="57.2" y1="49.6" x2="76.2" y2="49.6" stroke="#ff0000" stroke-width="2" />
<circle cx="66.7" cy="49.6" r="2.2" fill="#fff" stroke="#ff0000" stroke-width="1.1"/>
<text x="77.5" y="52.5" font-family='"Liberation Sans", sans-serif' font-size="8" font-weight="normal" text-anchor="start" fill="#222" >270 K</text>
<line x1="57.2" y1="59" x2="76.2" y2="59" stroke="#00ee00" stroke-width="2" />
<circle cx="66.7" cy="59" r="2.2" fill="#fff" stroke="#00e000" stroke-width="1.1"/>
<text x="77.5" y="61.9" font-family='"Liberation Sans", sans-serif' font-size="8" font-weight="normal" text-anchor="start" fill="#222" >240 K</text>
<line x1="57.2" y1="68.9" x2="76.2" y2="68.9" stroke="#0000ff" stroke-width="2" />
<circle cx="66.7" cy="68.9" r="2.2" fill="#fff" stroke="#4848ff" stroke-width="1.1"/>
<text x="77.5" y="71.8" font-family='"Liberation Sans", sans-serif' font-size="8" font-weight="normal" text-anchor="start" fill="#222" >210 K</text>
<line x1="57.2" y1="78.3" x2="76.2" y2="78.3" stroke="#00ffff" stroke-width="2" />
<circle cx="66.7" cy="78.3" r="2.2" fill="#fff" stroke="#00ffff" stroke-width="1.1"/>
<text x="77.5" y="81.2" font-family='"Liberation Sans", sans-serif' font-size="8" font-weight="normal" text-anchor="start" fill="#222" >180 K</text>
<text x="141.3" y="245.5" font-family='"Liberation Serif", serif' font-size="12.9" font-weight="bold" text-anchor="middle" fill="#000" textLength="95.6" lengthAdjust="spacingAndGlyphs">Gate Voltage (V)</text>
<text transform="translate(17.6,178.3) rotate(-90)" x="0" y="0" font-family='"Liberation Serif", serif' font-size="13.2" font-weight="bold" text-anchor="start" textLength="81.5" lengthAdjust="spacingAndGlyphs">Drain Current</text>
<text transform="translate(17.6,93.6) rotate(-90)" x="0" y="0" font-family='"Liberation Serif", serif' font-size="13.2" font-weight="bold" text-anchor="start" textLength="26" lengthAdjust="spacingAndGlyphs">(<tspan font-weight="normal" font-size="9">,</tspan>A)</text>
<text x="286.5" y="18.2" font-family='"Liberation Sans", sans-serif' font-size="16.6" font-weight="bold" text-anchor="start" fill="#000" >(b)</text>
<line x1="337" y1="146.14" x2="472.4" y2="190.13" stroke="#000" stroke-width="2.6" stroke-linecap="round" stroke-dasharray="0 5.1"/>
<line x1="337" y1="124.76" x2="472.4" y2="150.4" stroke="#ff0000" stroke-width="2.6" stroke-linecap="round" stroke-dasharray="0 5.1"/>
<line x1="337" y1="105.45" x2="472.4" y2="122.77" stroke="#00ff00" stroke-width="2.6" stroke-linecap="round" stroke-dasharray="0 5.1"/>
<line x1="337" y1="93.33" x2="472.4" y2="107.78" stroke="#0000ff" stroke-width="2.6" stroke-linecap="round" stroke-dasharray="0 5.1"/>
<line x1="337" y1="83.2" x2="472.4" y2="96.67" stroke="#007700" stroke-width="2.6" stroke-linecap="round" stroke-dasharray="0 5.1"/>
<line x1="337" y1="75.4" x2="472.4" y2="85.94" stroke="#ff00ff" stroke-width="2.6" stroke-linecap="round" stroke-dasharray="0 5.1"/>
<line x1="337" y1="69.62" x2="472.4" y2="81.84" stroke="#ffff00" stroke-width="2.6" stroke-linecap="round" stroke-dasharray="0 5.1"/>
<line x1="337" y1="64.45" x2="472.4" y2="74.58" stroke="#808000" stroke-width="2.6" stroke-linecap="round" stroke-dasharray="0 5.1"/>
<rect x="334.4" y="144.6" width="5.2" height="5.2" fill="none" stroke="#000" stroke-width="0.9"/>
<rect x="357.4" y="150.6" width="5.2" height="5.2" fill="none" stroke="#000" stroke-width="0.9"/>
<rect x="385.8" y="160.1" width="5.2" height="5.2" fill="none" stroke="#000" stroke-width="0.9"/>
<rect x="421.9" y="170.2" width="5.2" height="5.2" fill="none" stroke="#000" stroke-width="0.9"/>
<rect x="469.8" y="188.8" width="5.2" height="5.2" fill="none" stroke="#000" stroke-width="0.9"/>
<circle cx="337" cy="126.5" r="3" fill="none" stroke="#ff0000" stroke-width="0.9"/>
<circle cx="360" cy="128.1" r="3" fill="none" stroke="#ff0000" stroke-width="0.9"/>
<circle cx="388.4" cy="133.3" r="3" fill="none" stroke="#ff0000" stroke-width="0.9"/>
<circle cx="424.5" cy="140.9" r="3" fill="none" stroke="#ff0000" stroke-width="0.9"/>
<circle cx="472.4" cy="151.3" r="3" fill="none" stroke="#ff0000" stroke-width="0.9"/>
<polygon points="337,103 340.42,109.12 333.58,109.12" fill="none" stroke="#00dd00" stroke-width="0.9"/>
<polygon points="360,103.8 363.42,109.92 356.58,109.92" fill="none" stroke="#00dd00" stroke-width="0.9"/>
<polygon points="388.4,107.4 391.82,113.52 384.98,113.52" fill="none" stroke="#00dd00" stroke-width="0.9"/>
<polygon points="424.5,113.9 427.92,120.02 421.08,120.02" fill="none" stroke="#00dd00" stroke-width="0.9"/>
<polygon points="337,97.6 340.42,91.48 333.58,91.48" fill="none" stroke="#3333ff" stroke-width="0.9"/>
<polygon points="360,98.6 363.42,92.48 356.58,92.48" fill="none" stroke="#3333ff" stroke-width="0.9"/>
<polygon points="388.4,102.2 391.82,96.08 384.98,96.08" fill="none" stroke="#3333ff" stroke-width="0.9"/>
<polygon points="424.5,106.6 427.92,100.48 421.08,100.48" fill="none" stroke="#3333ff" stroke-width="0.9"/>
<polygon points="337,80 340.6,83.6 337,87.2 333.4,83.6" fill="none" stroke="#33aaaa" stroke-width="0.9"/>
<polygon points="360,81.4 363.6,85 360,88.6 356.4,85" fill="none" stroke="#33aaaa" stroke-width="0.9"/>
<polygon points="388.4,84.6 392,88.2 388.4,91.8 384.8,88.2" fill="none" stroke="#33aaaa" stroke-width="0.9"/>
<polygon points="424.5,88.5 428.1,92.1 424.5,95.7 420.9,92.1" fill="none" stroke="#33aaaa" stroke-width="0.9"/>
<polygon points="333.4,76 339.52,72.58 339.52,79.42" fill="none" stroke="#ff33ff" stroke-width="0.9"/>
<polygon points="356.4,76.6 362.52,73.18 362.52,80.02" fill="none" stroke="#ff33ff" stroke-width="0.9"/>
<polygon points="384.8,79 390.92,75.58 390.92,82.42" fill="none" stroke="#ff33ff" stroke-width="0.9"/>
<polygon points="420.9,82.6 427.02,79.18 427.02,86.02" fill="none" stroke="#ff33ff" stroke-width="0.9"/>
<polygon points="340.6,70 334.48,66.58 334.48,73.42" fill="none" stroke="#eeee00" stroke-width="0.9"/>
<polygon points="363.6,71 357.48,67.58 357.48,74.42" fill="none" stroke="#eeee00" stroke-width="0.9"/>
<polygon points="392,74.6 385.88,71.18 385.88,78.02" fill="none" stroke="#eeee00" stroke-width="0.9"/>
<polygon points="428.1,77.5 421.98,74.08 421.98,80.92" fill="none" stroke="#eeee00" stroke-width="0.9"/>
<polygon points="339.77,66.2 337,67.8 334.23,66.2 334.23,63 337,61.4 339.77,63" fill="none" stroke="#888822" stroke-width="0.9"/>
<polygon points="362.77,67.5 360,69.1 357.23,67.5 357.23,64.3 360,62.7 362.77,64.3" fill="none" stroke="#888822" stroke-width="0.9"/>
<polygon points="391.17,70 388.4,71.6 385.63,70 385.63,66.8 388.4,65.2 391.17,66.8" fill="none" stroke="#888822" stroke-width="0.9"/>
<polygon points="427.27,72.6 424.5,74.2 421.73,72.6 421.73,69.4 424.5,67.8 427.27,69.4" fill="none" stroke="#888822" stroke-width="0.9"/>
<rect x="498" y="35" width="2.2" height="99.5" fill="#000"/>
<rect x="454" y="132.5" width="46.2" height="2.2" fill="#000"/>
<rect x="451.5" y="32.5" width="46" height="100" fill="#fff" stroke="#000" stroke-width="1"/>
<rect x="462.68" y="45.58" width="6.24" height="6.24" fill="none" stroke="#000" stroke-width="0.9"/>
<text x="476.3" y="51.2" font-family='"Liberation Sans", sans-serif' font-size="7" font-weight="bold" text-anchor="start" fill="#111" >13 V</text>
<circle cx="465.8" cy="58.2" r="3.6" fill="none" stroke="#ff0000" stroke-width="0.9"/>
<text x="476.3" y="60.7" font-family='"Liberation Sans", sans-serif' font-size="7" font-weight="bold" text-anchor="start" fill="#111" >20 V</text>
<polygon points="465.8,63.58 469.9,70.92 461.7,70.92" fill="none" stroke="#00dd00" stroke-width="0.9"/>
<text x="476.3" y="70.4" font-family='"Liberation Sans", sans-serif' font-size="7" font-weight="bold" text-anchor="start" fill="#111" >30 V</text>
<polygon points="465.8,81.82 469.9,74.48 461.7,74.48" fill="none" stroke="#3333ff" stroke-width="0.9"/>
<text x="476.3" y="80" font-family='"Liberation Sans", sans-serif' font-size="7" font-weight="bold" text-anchor="start" fill="#111" >40 V</text>
<polygon points="465.8,83.38 470.12,87.7 465.8,92.02 461.48,87.7" fill="none" stroke="#33aaaa" stroke-width="0.9"/>
<text x="476.3" y="90.2" font-family='"Liberation Sans", sans-serif' font-size="7" font-weight="bold" text-anchor="start" fill="#111" >50 V</text>
<polygon points="461.48,97.1 468.82,93 468.82,101.2" fill="none" stroke="#ff33ff" stroke-width="0.9"/>
<text x="476.3" y="99.6" font-family='"Liberation Sans", sans-serif' font-size="7" font-weight="bold" text-anchor="start" fill="#111" >60 V</text>
<polygon points="470.12,107 462.78,102.9 462.78,111.1" fill="none" stroke="#eeee00" stroke-width="0.9"/>
<text x="476.3" y="109.5" font-family='"Liberation Sans", sans-serif' font-size="7" font-weight="bold" text-anchor="start" fill="#111" >70 V</text>
<polygon points="469.13,118.42 465.8,120.34 462.47,118.42 462.47,114.58 465.8,112.66 469.13,114.58" fill="none" stroke="#888822" stroke-width="0.9"/>
<text x="476.3" y="119" font-family='"Liberation Sans", sans-serif' font-size="7" font-weight="bold" text-anchor="start" fill="#111" >80 V</text>
<rect x="317.9" y="32.2" width="184.2" height="184.7" fill="none" stroke="#000" stroke-width="2"/>
<line x1="317.9" y1="216.9" x2="317.9" y2="220.9" stroke="#000" stroke-width="1.5" />
<text x="317.9" y="230.3" font-family='"Liberation Sans", sans-serif' font-size="10.6" font-weight="bold" text-anchor="middle" fill="#000" >35</text>
<line x1="344.21" y1="216.9" x2="344.21" y2="220.9" stroke="#000" stroke-width="1.5" />
<text x="344.21" y="230.3" font-family='"Liberation Sans", sans-serif' font-size="10.6" font-weight="bold" text-anchor="middle" fill="#000" >40</text>
<line x1="370.53" y1="216.9" x2="370.53" y2="220.9" stroke="#000" stroke-width="1.5" />
<text x="370.53" y="230.3" font-family='"Liberation Sans", sans-serif' font-size="10.6" font-weight="bold" text-anchor="middle" fill="#000" >45</text>
<line x1="396.84" y1="216.9" x2="396.84" y2="220.9" stroke="#000" stroke-width="1.5" />
<text x="396.84" y="230.3" font-family='"Liberation Sans", sans-serif' font-size="10.6" font-weight="bold" text-anchor="middle" fill="#000" >50</text>
<line x1="423.16" y1="216.9" x2="423.16" y2="220.9" stroke="#000" stroke-width="1.5" />
<text x="423.16" y="230.3" font-family='"Liberation Sans", sans-serif' font-size="10.6" font-weight="bold" text-anchor="middle" fill="#000" >55</text>
<line x1="449.47" y1="216.9" x2="449.47" y2="220.9" stroke="#000" stroke-width="1.5" />
<text x="449.47" y="230.3" font-family='"Liberation Sans", sans-serif' font-size="10.6" font-weight="bold" text-anchor="middle" fill="#000" >60</text>
<line x1="475.79" y1="216.9" x2="475.79" y2="220.9" stroke="#000" stroke-width="1.5" />
<text x="475.79" y="230.3" font-family='"Liberation Sans", sans-serif' font-size="10.6" font-weight="bold" text-anchor="middle" fill="#000" >65</text>
<line x1="502.1" y1="216.9" x2="502.1" y2="220.9" stroke="#000" stroke-width="1.5" />
<text x="502.1" y="230.3" font-family='"Liberation Sans", sans-serif' font-size="10.6" font-weight="bold" text-anchor="middle" fill="#000" >70</text>
<line x1="313.9" y1="32.2" x2="317.9" y2="32.2" stroke="#000" stroke-width="1.5" />
<text x="311.9" y="35.9" font-family='"Liberation Sans", sans-serif' font-size="10.6" font-weight="bold" text-anchor="end" fill="#000" >-10</text>
<line x1="315.9" y1="47.59" x2="317.9" y2="47.59" stroke="#000" stroke-width="1.2" />
<line x1="313.9" y1="62.98" x2="317.9" y2="62.98" stroke="#000" stroke-width="1.5" />
<text x="311.9" y="66.68" font-family='"Liberation Sans", sans-serif' font-size="10.6" font-weight="bold" text-anchor="end" fill="#000" >-12</text>
<line x1="315.9" y1="78.38" x2="317.9" y2="78.38" stroke="#000" stroke-width="1.2" />
<line x1="313.9" y1="93.77" x2="317.9" y2="93.77" stroke="#000" stroke-width="1.5" />
<text x="311.9" y="97.47" font-family='"Liberation Sans", sans-serif' font-size="10.6" font-weight="bold" text-anchor="end" fill="#000" >-14</text>
<line x1="315.9" y1="109.16" x2="317.9" y2="109.16" stroke="#000" stroke-width="1.2" />
<line x1="313.9" y1="124.55" x2="317.9" y2="124.55" stroke="#000" stroke-width="1.5" />
<text x="311.9" y="128.25" font-family='"Liberation Sans", sans-serif' font-size="10.6" font-weight="bold" text-anchor="end" fill="#000" >-16</text>
<line x1="315.9" y1="139.94" x2="317.9" y2="139.94" stroke="#000" stroke-width="1.2" />
<line x1="313.9" y1="155.33" x2="317.9" y2="155.33" stroke="#000" stroke-width="1.5" />
<text x="311.9" y="159.03" font-family='"Liberation Sans", sans-serif' font-size="10.6" font-weight="bold" text-anchor="end" fill="#000" >-18</text>
<line x1="315.9" y1="170.73" x2="317.9" y2="170.73" stroke="#000" stroke-width="1.2" />
<line x1="313.9" y1="186.12" x2="317.9" y2="186.12" stroke="#000" stroke-width="1.5" />
<text x="311.9" y="189.82" font-family='"Liberation Sans", sans-serif' font-size="10.6" font-weight="bold" text-anchor="end" fill="#000" >-20</text>
<line x1="315.9" y1="201.51" x2="317.9" y2="201.51" stroke="#000" stroke-width="1.2" />
<line x1="313.9" y1="216.9" x2="317.9" y2="216.9" stroke="#000" stroke-width="1.5" />
<text x="311.9" y="220.6" font-family='"Liberation Sans", sans-serif' font-size="10.6" font-weight="bold" text-anchor="end" fill="#000" >-22</text>
<text x="369.8" y="246.8" font-family='"Liberation Serif", serif' font-size="13.4" font-weight="bold" text-anchor="start" textLength="75.7" lengthAdjust="spacingAndGlyphs">1/<tspan font-style="italic">k</tspan><tspan font-style="italic" font-size="9" dy="2.5">B</tspan><tspan font-style="italic" dy="-2.5">T</tspan>(1/eV)</text>
<text transform="translate(295.5,114) rotate(-90)" font-family='"Liberation Serif", serif' font-size="13" font-weight="bold" text-anchor="middle">Ln (I<tspan font-size="9" dy="2.5">D</tspan><tspan dy="-2.5">)</tspan></text>
<text x="9" y="264.5" font-family='"Liberation Sans", sans-serif' font-size="16.6" font-weight="bold" text-anchor="start" fill="#000" >(c)</text>
<polyline points="64,311.3 64.3,312.38 64.73,313.86 65.23,315.61 65.76,317.52 66.3,319.46 66.8,321.3 67.27,323.07 67.73,324.87 68.2,326.71 68.67,328.56 69.13,330.43 69.6,332.3 70.07,334.19 70.53,336.12 71,338.06 71.47,339.99 71.93,341.91 72.4,343.8 72.87,345.71 73.36,347.67 73.84,349.62 74.32,351.48 74.77,353.2 75.2,354.7 75.57,355.87 75.87,356.74 76.16,357.46 76.46,358.19 76.83,359.08 77.3,360.3 77.89,361.88 78.57,363.72 79.31,365.72 80.08,367.8 80.85,369.89 81.6,371.9 82.31,373.86 83.01,375.85 83.71,377.84 84.43,379.81 85.18,381.74 86,383.6 86.87,385.42 87.78,387.21 88.72,388.97 89.71,390.65 90.74,392.24 91.8,393.7 92.92,395.02 94.09,396.22 95.3,397.32 96.53,398.35 97.77,399.33 99,400.3 100.22,401.24 101.46,402.13 102.7,402.98 103.94,403.79 105.18,404.56 106.4,405.3 107.61,406.01 108.81,406.68 110.01,407.32 111.2,407.92 112.4,408.48 113.6,409 114.81,409.46 116.03,409.85 117.24,410.21 118.46,410.55 119.68,410.9 120.9,411.3 122.12,411.73 123.33,412.16 124.55,412.61 125.77,413.08 126.98,413.58 128.2,414.1 129.42,414.66 130.64,415.24 131.86,415.86 133.07,416.49 134.29,417.14 135.5,417.8 136.7,418.49 137.9,419.21 139.1,419.95 140.3,420.69 141.5,421.41 142.7,422.1 143.93,422.75 145.19,423.37 146.45,423.98 147.69,424.57 148.88,425.18 150,425.8 150.92,426.4 151.63,426.97 152.29,427.54 153.07,428.16 154.12,428.87 155.6,429.7 157.6,430.7 160,431.84 162.68,433.07 165.49,434.33 168.31,435.56 171,436.7 173.59,437.76 176.19,438.79 178.8,439.79 181.41,440.77 184.01,441.74 186.6,442.7 189.18,443.65 191.76,444.57 194.34,445.48 196.9,446.39 199.46,447.29 202,448.2 204.54,449.13 207.08,450.07 209.61,451.01 212.12,451.93 214.59,452.84 217,453.7 219.51,454.57 222.14,455.47 224.74,456.34 227.13,457.14 229.14,457.81 230.6,458.3" fill="none" stroke="#000" stroke-width="2.7" stroke-linejoin="round" />
<g fill="#fff" stroke="#444" stroke-width="0.9">
<circle cx="64.04" cy="311.19" r="2.3"/>
<circle cx="79.38" cy="374.2" r="2.3"/>
<circle cx="94.73" cy="396.32" r="2.3"/>
<circle cx="110.07" cy="409.54" r="2.3"/>
<circle cx="125.41" cy="411.08" r="2.3"/>
<circle cx="140.75" cy="421.83" r="2.3"/>
<circle cx="156.09" cy="429.82" r="2.3"/>
<circle cx="171.43" cy="436.89" r="2.3"/>
<circle cx="186.78" cy="443.04" r="2.3"/>
<circle cx="202.12" cy="448.26" r="2.3"/>
<circle cx="217.46" cy="453.79" r="2.3"/>
</g>
<line x1="59.13" y1="306.3" x2="100.75" y2="422.6" stroke="#ff0000" stroke-width="3" stroke-dasharray="3.2 3.1" stroke-dashoffset="-0.2"/>
<line x1="59" y1="382.6" x2="227.8" y2="457.2" stroke="#ff0000" stroke-width="3" stroke-dasharray="3.2 3.05" stroke-dashoffset="1"/>
<text x="61.3" y="425.1" font-family='"Liberation Sans", sans-serif' font-size="16" font-weight="bold" text-anchor="start" fill="#000" >15 V</text>
<rect x="48.7" y="278" width="184.1" height="184.4" fill="none" stroke="#000" stroke-width="2"/>
<line x1="48.7" y1="462.4" x2="48.7" y2="466.4" stroke="#000" stroke-width="1.5" />
<text x="48.7" y="476.3" font-family='"Liberation Sans", sans-serif' font-size="10.6" font-weight="bold" text-anchor="middle" fill="#000" >12</text>
<line x1="94.73" y1="462.4" x2="94.73" y2="466.4" stroke="#000" stroke-width="1.5" />
<text x="94.73" y="476.3" font-family='"Liberation Sans", sans-serif' font-size="10.6" font-weight="bold" text-anchor="middle" fill="#000" >15</text>
<line x1="140.75" y1="462.4" x2="140.75" y2="466.4" stroke="#000" stroke-width="1.5" />
<text x="140.75" y="476.3" font-family='"Liberation Sans", sans-serif' font-size="10.6" font-weight="bold" text-anchor="middle" fill="#000" >18</text>
<line x1="186.78" y1="462.4" x2="186.78" y2="466.4" stroke="#000" stroke-width="1.5" />
<text x="186.78" y="476.3" font-family='"Liberation Sans", sans-serif' font-size="10.6" font-weight="bold" text-anchor="middle" fill="#000" >21</text>
<line x1="232.8" y1="462.4" x2="232.8" y2="466.4" stroke="#000" stroke-width="1.5" />
<text x="232.8" y="476.3" font-family='"Liberation Sans", sans-serif' font-size="10.6" font-weight="bold" text-anchor="middle" fill="#000" >24</text>
<line x1="44.7" y1="462.4" x2="48.7" y2="462.4" stroke="#000" stroke-width="1.5" />
<text x="42.9" y="466" font-family='"Liberation Sans", sans-serif' font-size="10.6" font-weight="bold" text-anchor="end" fill="#000" >60</text>
<line x1="46.7" y1="431.67" x2="48.7" y2="431.67" stroke="#000" stroke-width="1.2" />
<line x1="44.7" y1="400.93" x2="48.7" y2="400.93" stroke="#000" stroke-width="1.5" />
<text x="42.9" y="404.53" font-family='"Liberation Sans", sans-serif' font-size="10.6" font-weight="bold" text-anchor="end" fill="#000" >80</text>
<line x1="46.7" y1="370.2" x2="48.7" y2="370.2" stroke="#000" stroke-width="1.2" />
<line x1="44.7" y1="339.47" x2="48.7" y2="339.47" stroke="#000" stroke-width="1.5" />
<text x="42.9" y="343.07" font-family='"Liberation Sans", sans-serif' font-size="10.6" font-weight="bold" text-anchor="end" fill="#000" >100</text>
<line x1="46.7" y1="308.73" x2="48.7" y2="308.73" stroke="#000" stroke-width="1.2" />
<line x1="44.7" y1="278" x2="48.7" y2="278" stroke="#000" stroke-width="1.5" />
<text x="42.9" y="281.6" font-family='"Liberation Sans", sans-serif' font-size="10.6" font-weight="bold" text-anchor="end" fill="#000" >120</text>
<text x="140.35" y="493.6" font-family='"Liberation Serif", serif' font-size="12.9" font-weight="bold" text-anchor="middle" fill="#000" textLength="96.7" lengthAdjust="spacingAndGlyphs">Gate Voltage (V)</text>
<text transform="translate(17.6,448.2) rotate(-90)" font-family='"Liberation Serif", serif' font-size="13.2" font-weight="bold" text-anchor="start" textLength="66.8" lengthAdjust="spacingAndGlyphs" >Activation</text>
<text transform="translate(17.6,379) rotate(-90)" font-family='"Liberation Serif", serif' font-size="13.2" font-weight="bold" text-anchor="start" textLength="39.6" lengthAdjust="spacingAndGlyphs" >Energy</text>
<text transform="translate(17.6,336.4) rotate(-90)" font-family='"Liberation Serif", serif' font-size="13.2" font-weight="bold" text-anchor="start" textLength="36.6" lengthAdjust="spacingAndGlyphs" >(meV)</text>
<rect x="138.4" y="284.0" width="85.6" height="87" fill="#fff" stroke="none"/>
<polyline points="141.48,293.3 142.71,310.96 143.94,317.16 145.17,320.87 146.41,321.3 147.64,324.31 148.87,326.55 150.1,328.53 151.33,330.26 152.56,331.72 153.8,333.27 155.03,334.65 156.51,336.32 157.98,337.87 159.46,339.31 160.94,340.65 162.42,341.9 163.9,343.07 165.37,344.17 166.85,345.2 168.33,346.17 169.81,347.08 171.29,347.95 172.76,348.77 174.24,349.56 175.72,350.3 177.2,351 178.68,351.68 180.15,352.32 181.63,352.94 183.11,353.53 184.59,354.09 186.07,354.63 187.54,355.15 189.02,355.65 190.5,356.13 191.98,356.59 193.45,357.04 194.93,357.47 196.41,357.88 197.89,358.28 199.37,358.67 200.84,359.05 202.32,359.41 203.8,359.76 205.28,360.1 206.76,360.43 208.23,360.75 209.71,361.06 211.19,361.36 212.67,361.66 214.15,361.94 215.62,362.22 217.1,362.49 218.58,362.75 220.06,363.01 221.54,363.26 223.01,363.5" fill="none" stroke="#000" stroke-width="1.4" stroke-linejoin="round" />
<g fill="#fff" stroke="#333" stroke-width="0.65">
<circle cx="141.48" cy="293.3" r="1.6"/>
<circle cx="142.71" cy="310.96" r="1.6"/>
<circle cx="143.94" cy="317.16" r="1.6"/>
<circle cx="145.17" cy="320.87" r="1.6"/>
<circle cx="146.41" cy="321.3" r="1.6"/>
<circle cx="147.64" cy="324.31" r="1.6"/>
<circle cx="148.87" cy="326.55" r="1.6"/>
<circle cx="150.1" cy="328.53" r="1.6"/>
<circle cx="151.33" cy="330.26" r="1.6"/>
<circle cx="152.56" cy="331.72" r="1.6"/>
<circle cx="153.8" cy="333.27" r="1.6"/>
<circle cx="155.03" cy="334.65" r="1.6"/>
<circle cx="156.51" cy="336.32" r="1.6"/>
<circle cx="157.98" cy="337.87" r="1.6"/>
<circle cx="159.46" cy="339.31" r="1.6"/>
<circle cx="160.94" cy="340.65" r="1.6"/>
<circle cx="162.42" cy="341.9" r="1.6"/>
<circle cx="163.9" cy="343.07" r="1.6"/>
<circle cx="165.37" cy="344.17" r="1.6"/>
<circle cx="166.85" cy="345.2" r="1.6"/>
<circle cx="168.33" cy="346.17" r="1.6"/>
<circle cx="169.81" cy="347.08" r="1.6"/>
<circle cx="171.29" cy="347.95" r="1.6"/>
<circle cx="172.76" cy="348.77" r="1.6"/>
<circle cx="174.24" cy="349.56" r="1.6"/>
<circle cx="175.72" cy="350.3" r="1.6"/>
<circle cx="177.2" cy="351" r="1.6"/>
<circle cx="178.68" cy="351.68" r="1.6"/>
<circle cx="180.15" cy="352.32" r="1.6"/>
<circle cx="181.63" cy="352.94" r="1.6"/>
<circle cx="183.11" cy="353.53" r="1.6"/>
<circle cx="184.59" cy="354.09" r="1.6"/>
<circle cx="186.07" cy="354.63" r="1.6"/>
<circle cx="187.54" cy="355.15" r="1.6"/>
<circle cx="189.02" cy="355.65" r="1.6"/>
<circle cx="190.5" cy="356.13" r="1.6"/>
<circle cx="191.98" cy="356.59" r="1.6"/>
<circle cx="193.45" cy="357.04" r="1.6"/>
<circle cx="194.93" cy="357.47" r="1.6"/>
<circle cx="196.41" cy="357.88" r="1.6"/>
<circle cx="197.89" cy="358.28" r="1.6"/>
<circle cx="199.37" cy="358.67" r="1.6"/>
<circle cx="200.84" cy="359.05" r="1.6"/>
<circle cx="202.32" cy="359.41" r="1.6"/>
<circle cx="203.8" cy="359.76" r="1.6"/>
<circle cx="205.28" cy="360.1" r="1.6"/>
<circle cx="206.76" cy="360.43" r="1.6"/>
<circle cx="208.23" cy="360.75" r="1.6"/>
<circle cx="209.71" cy="361.06" r="1.6"/>
<circle cx="211.19" cy="361.36" r="1.6"/>
<circle cx="212.67" cy="361.66" r="1.6"/>
<circle cx="214.15" cy="361.94" r="1.6"/>
<circle cx="215.62" cy="362.22" r="1.6"/>
<circle cx="217.1" cy="362.49" r="1.6"/>
<circle cx="218.58" cy="362.75" r="1.6"/>
<circle cx="220.06" cy="363.01" r="1.6"/>
<circle cx="221.54" cy="363.26" r="1.6"/>
<circle cx="223.01" cy="363.5" r="1.6"/>
</g>
<rect x="138.4" y="284" width="85.6" height="87" fill="none" stroke="#000" stroke-width="1.6"/>
<line x1="150.1" y1="371" x2="150.1" y2="374" stroke="#000" stroke-width="1.3" />
<text x="150.1" y="383" font-family='"Liberation Sans", sans-serif' font-size="8.5" font-weight="bold" text-anchor="middle" fill="#000" >20</text>
<line x1="162.42" y1="371" x2="162.42" y2="372.8" stroke="#000" stroke-width="1" />
<line x1="174.73" y1="371" x2="174.73" y2="374" stroke="#000" stroke-width="1.3" />
<text x="174.73" y="383" font-family='"Liberation Sans", sans-serif' font-size="8.5" font-weight="bold" text-anchor="middle" fill="#000" >40</text>
<line x1="187.05" y1="371" x2="187.05" y2="372.8" stroke="#000" stroke-width="1" />
<line x1="199.37" y1="371" x2="199.37" y2="374" stroke="#000" stroke-width="1.3" />
<text x="199.37" y="383" font-family='"Liberation Sans", sans-serif' font-size="8.5" font-weight="bold" text-anchor="middle" fill="#000" >60</text>
<line x1="211.68" y1="371" x2="211.68" y2="372.8" stroke="#000" stroke-width="1" />
<line x1="224" y1="371" x2="224" y2="374" stroke="#000" stroke-width="1.3" />
<text x="224" y="383" font-family='"Liberation Sans", sans-serif' font-size="8.5" font-weight="bold" text-anchor="middle" fill="#000" >80</text>
<line x1="135.4" y1="352.91" x2="138.4" y2="352.91" stroke="#000" stroke-width="1.3" />
<text x="134.6" y="355.91" font-family='"Liberation Sans", sans-serif' font-size="8.5" font-weight="bold" text-anchor="end" fill="#000" >40</text>
<line x1="136.6" y1="335.68" x2="138.4" y2="335.68" stroke="#000" stroke-width="1" />
<line x1="135.4" y1="318.46" x2="138.4" y2="318.46" stroke="#000" stroke-width="1.3" />
<text x="134.6" y="321.46" font-family='"Liberation Sans", sans-serif' font-size="8.5" font-weight="bold" text-anchor="end" fill="#000" >80</text>
<line x1="136.6" y1="301.23" x2="138.4" y2="301.23" stroke="#000" stroke-width="1" />
<line x1="135.4" y1="284" x2="138.4" y2="284" stroke="#000" stroke-width="1.3" />
<text x="134.6" y="287" font-family='"Liberation Sans", sans-serif' font-size="8.5" font-weight="bold" text-anchor="end" fill="#000" >120</text>
<text x="182.5" y="396" font-family='"Liberation Serif", serif' font-size="14" font-weight="bold" font-style="italic" text-anchor="middle">V<tspan font-size="9" dy="2.5">G</tspan></text>
<text transform="translate(116.8,317.5) rotate(-90)" font-family='"Liberation Serif", serif' font-size="14" font-weight="bold" font-style="italic" text-anchor="middle">E<tspan font-size="9" dy="2.5">a</tspan></text>
<text x="287.3" y="268.2" font-family='"Liberation Sans", sans-serif' font-size="16.6" font-weight="bold" text-anchor="start" fill="#000" >(d)</text>
<polyline points="349.61,449.25 351.92,408.48 354.23,383.16 361.39,366.23 364.39,359.72 367.39,355.43 370.39,352.52 373.39,350.06 376.4,347.87 379.4,346.08 382.4,344.55 385.4,343.05 388.4,341.6 391.4,338.07 394.4,339.97 397.4,339.01 400.41,336.73 403.41,334.54 406.41,332.66 409.41,330.78 412.41,329.53 415.41,328.28 418.41,327.03 421.42,325.78 424.42,324.54 427.42,323.34 430.42,320.6 433.42,321.12 436.42,320.35 439.42,319 442.43,317.66 445.43,316.31 448.43,314.96 451.43,313.61 454.43,312.26 457.43,310.91 460.43,309.93 463.44,309.18 466.44,308.43 469.44,307.68 472.44,306.93 475.44,306.18 478.44,305.43 481.44,304.64 484.44,303.82 487.45,303 490.45,302.18 493.45,301.36 496.45,300.54 499.45,299.72 502.45,298.93 504.3,298.54" fill="none" stroke="#000" stroke-width="2.2" stroke-linejoin="round" />
<g fill="#fff" stroke="#505050" stroke-width="0.85">
<circle cx="349.61" cy="449.25" r="2.05"/>
<circle cx="351.92" cy="408.48" r="2.05"/>
<circle cx="354.23" cy="383.16" r="2.05"/>
<circle cx="361.39" cy="366.23" r="2.05"/>
<circle cx="364.39" cy="359.72" r="2.05"/>
<circle cx="367.39" cy="355.43" r="2.05"/>
<circle cx="370.39" cy="352.52" r="2.05"/>
<circle cx="373.39" cy="350.06" r="2.05"/>
<circle cx="376.4" cy="347.87" r="2.05"/>
<circle cx="379.4" cy="346.08" r="2.05"/>
<circle cx="382.4" cy="344.55" r="2.05"/>
<circle cx="385.4" cy="343.05" r="2.05"/>
<circle cx="388.4" cy="341.6" r="2.05"/>
<circle cx="391.4" cy="338.07" r="2.05"/>
<circle cx="394.4" cy="339.97" r="2.05"/>
<circle cx="397.4" cy="339.01" r="2.05"/>
<circle cx="400.41" cy="336.73" r="2.05"/>
<circle cx="403.41" cy="334.54" r="2.05"/>
<circle cx="406.41" cy="332.66" r="2.05"/>
<circle cx="409.41" cy="330.78" r="2.05"/>
<circle cx="412.41" cy="329.53" r="2.05"/>
<circle cx="415.41" cy="328.28" r="2.05"/>
<circle cx="418.41" cy="327.03" r="2.05"/>
<circle cx="421.42" cy="325.78" r="2.05"/>
<circle cx="424.42" cy="324.54" r="2.05"/>
<circle cx="427.42" cy="323.34" r="2.05"/>
<circle cx="430.42" cy="320.6" r="2.05"/>
<circle cx="433.42" cy="321.12" r="2.05"/>
<circle cx="436.42" cy="320.35" r="2.05"/>
<circle cx="439.42" cy="319" r="2.05"/>
<circle cx="442.43" cy="317.66" r="2.05"/>
<circle cx="445.43" cy="316.31" r="2.05"/>
<circle cx="448.43" cy="314.96" r="2.05"/>
<circle cx="451.43" cy="313.61" r="2.05"/>
<circle cx="454.43" cy="312.26" r="2.05"/>
<circle cx="457.43" cy="310.91" r="2.05"/>
<circle cx="460.43" cy="309.93" r="2.05"/>
<circle cx="463.44" cy="309.18" r="2.05"/>
<circle cx="466.44" cy="308.43" r="2.05"/>
<circle cx="469.44" cy="307.68" r="2.05"/>
<circle cx="472.44" cy="306.93" r="2.05"/>
<circle cx="475.44" cy="306.18" r="2.05"/>
<circle cx="478.44" cy="305.43" r="2.05"/>
<circle cx="481.44" cy="304.64" r="2.05"/>
<circle cx="484.44" cy="303.82" r="2.05"/>
<circle cx="487.45" cy="303" r="2.05"/>
<circle cx="490.45" cy="302.18" r="2.05"/>
<circle cx="493.45" cy="301.36" r="2.05"/>
<circle cx="496.45" cy="300.54" r="2.05"/>
<circle cx="499.45" cy="299.72" r="2.05"/>
<circle cx="502.45" cy="298.93" r="2.05"/>
<circle cx="504.3" cy="298.54" r="2.05"/>
</g>
<polyline points="349.61,349.18 351.92,370.29 354.23,377.7 356.54,382.13 358.85,382.64 361.16,386.24 363.47,388.92 365.78,391.29 368.08,393.35 370.39,395.1 372.7,396.95 375.01,398.6 377.78,400.6 380.55,402.45 383.32,404.17 386.09,405.77 388.86,407.26 391.63,408.66 394.4,409.97 397.17,411.2 399.94,412.36 402.72,413.46 405.49,414.5 408.26,415.48 411.03,416.41 413.8,417.3 416.57,418.14 419.34,418.95 422.11,419.72 424.88,420.45 427.65,421.16 430.42,421.83 433.19,422.48 435.96,423.1 438.73,423.7 441.5,424.27 444.27,424.82 447.04,425.36 449.81,425.87 452.58,426.37 455.35,426.84 458.12,427.31 460.9,427.76 463.67,428.19 466.44,428.61 469.21,429.02 471.98,429.41 474.75,429.79 477.52,430.16 480.29,430.53 483.06,430.88 485.83,431.22 488.6,431.55 491.37,431.87 494.14,432.19 496.91,432.49 499.68,432.79 502.45,433.08" fill="none" stroke="#0000ff" stroke-width="2.2" stroke-linejoin="round" />
<g fill="#fff" stroke="#3a3aff" stroke-width="0.85">
<circle cx="349.61" cy="349.18" r="2.05"/>
<circle cx="351.92" cy="370.29" r="2.05"/>
<circle cx="354.23" cy="377.7" r="2.05"/>
<circle cx="356.54" cy="382.13" r="2.05"/>
<circle cx="358.85" cy="382.64" r="2.05"/>
<circle cx="361.16" cy="386.24" r="2.05"/>
<circle cx="363.47" cy="388.92" r="2.05"/>
<circle cx="365.78" cy="391.29" r="2.05"/>
<circle cx="368.08" cy="393.35" r="2.05"/>
<circle cx="370.39" cy="395.1" r="2.05"/>
<circle cx="372.7" cy="396.95" r="2.05"/>
<circle cx="375.01" cy="398.6" r="2.05"/>
<circle cx="377.78" cy="400.6" r="2.05"/>
<circle cx="380.55" cy="402.45" r="2.05"/>
<circle cx="383.32" cy="404.17" r="2.05"/>
<circle cx="386.09" cy="405.77" r="2.05"/>
<circle cx="388.86" cy="407.26" r="2.05"/>
<circle cx="391.63" cy="408.66" r="2.05"/>
<circle cx="394.4" cy="409.97" r="2.05"/>
<circle cx="397.17" cy="411.2" r="2.05"/>
<circle cx="399.94" cy="412.36" r="2.05"/>
<circle cx="402.72" cy="413.46" r="2.05"/>
<circle cx="405.49" cy="414.5" r="2.05"/>
<circle cx="408.26" cy="415.48" r="2.05"/>
<circle cx="411.03" cy="416.41" r="2.05"/>
<circle cx="413.8" cy="417.3" r="2.05"/>
<circle cx="416.57" cy="418.14" r="2.05"/>
<circle cx="419.34" cy="418.95" r="2.05"/>
<circle cx="422.11" cy="419.72" r="2.05"/>
<circle cx="424.88" cy="420.45" r="2.05"/>
<circle cx="427.65" cy="421.16" r="2.05"/>
<circle cx="430.42" cy="421.83" r="2.05"/>
<circle cx="433.19" cy="422.48" r="2.05"/>
<circle cx="435.96" cy="423.1" r="2.05"/>
<circle cx="438.73" cy="423.7" r="2.05"/>
<circle cx="441.5" cy="424.27" r="2.05"/>
<circle cx="444.27" cy="424.82" r="2.05"/>
<circle cx="447.04" cy="425.36" r="2.05"/>
<circle cx="449.81" cy="425.87" r="2.05"/>
<circle cx="452.58" cy="426.37" r="2.05"/>
<circle cx="455.35" cy="426.84" r="2.05"/>
<circle cx="458.12" cy="427.31" r="2.05"/>
<circle cx="460.9" cy="427.76" r="2.05"/>
<circle cx="463.67" cy="428.19" r="2.05"/>
<circle cx="466.44" cy="428.61" r="2.05"/>
<circle cx="469.21" cy="429.02" r="2.05"/>
<circle cx="471.98" cy="429.41" r="2.05"/>
<circle cx="474.75" cy="429.79" r="2.05"/>
<circle cx="477.52" cy="430.16" r="2.05"/>
<circle cx="480.29" cy="430.53" r="2.05"/>
<circle cx="483.06" cy="430.88" r="2.05"/>
<circle cx="485.83" cy="431.22" r="2.05"/>
<circle cx="488.6" cy="431.55" r="2.05"/>
<circle cx="491.37" cy="431.87" r="2.05"/>
<circle cx="494.14" cy="432.19" r="2.05"/>
<circle cx="496.91" cy="432.49" r="2.05"/>
<circle cx="499.68" cy="432.79" r="2.05"/>
<circle cx="502.45" cy="433.08" r="2.05"/>
</g>
<line x1="319.6" y1="381.6" x2="504.3" y2="381.6" stroke="#ff0000" stroke-width="3" stroke-dasharray="3.2 3.1" stroke-dashoffset="-1.8"/>
<rect x="319.6" y="276.3" width="184.7" height="185.3" fill="none" stroke="#000" stroke-width="2"/>
<line x1="319.6" y1="461.6" x2="319.6" y2="465.6" stroke="#000" stroke-width="1.5" />
<text x="319.6" y="475.8" font-family='"Liberation Sans", sans-serif' font-size="10.6" font-weight="bold" text-anchor="middle" fill="#000" >0</text>
<line x1="342.69" y1="461.6" x2="342.69" y2="465.6" stroke="#000" stroke-width="1.5" />
<text x="342.69" y="475.8" font-family='"Liberation Sans", sans-serif' font-size="10.6" font-weight="bold" text-anchor="middle" fill="#000" >10</text>
<line x1="365.78" y1="461.6" x2="365.78" y2="465.6" stroke="#000" stroke-width="1.5" />
<text x="365.78" y="475.8" font-family='"Liberation Sans", sans-serif' font-size="10.6" font-weight="bold" text-anchor="middle" fill="#000" >20</text>
<line x1="388.86" y1="461.6" x2="388.86" y2="465.6" stroke="#000" stroke-width="1.5" />
<text x="388.86" y="475.8" font-family='"Liberation Sans", sans-serif' font-size="10.6" font-weight="bold" text-anchor="middle" fill="#000" >30</text>
<line x1="411.95" y1="461.6" x2="411.95" y2="465.6" stroke="#000" stroke-width="1.5" />
<text x="411.95" y="475.8" font-family='"Liberation Sans", sans-serif' font-size="10.6" font-weight="bold" text-anchor="middle" fill="#000" >40</text>
<line x1="435.04" y1="461.6" x2="435.04" y2="465.6" stroke="#000" stroke-width="1.5" />
<text x="435.04" y="475.8" font-family='"Liberation Sans", sans-serif' font-size="10.6" font-weight="bold" text-anchor="middle" fill="#000" >50</text>
<line x1="458.12" y1="461.6" x2="458.12" y2="465.6" stroke="#000" stroke-width="1.5" />
<text x="458.12" y="475.8" font-family='"Liberation Sans", sans-serif' font-size="10.6" font-weight="bold" text-anchor="middle" fill="#000" >60</text>
<line x1="481.21" y1="461.6" x2="481.21" y2="465.6" stroke="#000" stroke-width="1.5" />
<text x="481.21" y="475.8" font-family='"Liberation Sans", sans-serif' font-size="10.6" font-weight="bold" text-anchor="middle" fill="#000" >70</text>
<line x1="504.3" y1="461.6" x2="504.3" y2="465.6" stroke="#000" stroke-width="1.5" />
<text x="504.3" y="475.8" font-family='"Liberation Sans", sans-serif' font-size="10.6" font-weight="bold" text-anchor="middle" fill="#000" >80</text>
<line x1="315.6" y1="461.6" x2="319.6" y2="461.6" stroke="#000" stroke-width="1.5" />
<line x1="317.6" y1="443.01" x2="319.6" y2="443.01" stroke="#000" stroke-width="1" />
<line x1="317.6" y1="432.13" x2="319.6" y2="432.13" stroke="#000" stroke-width="1" />
<line x1="317.6" y1="424.41" x2="319.6" y2="424.41" stroke="#000" stroke-width="1" />
<line x1="317.6" y1="418.43" x2="319.6" y2="418.43" stroke="#000" stroke-width="1" />
<line x1="317.6" y1="413.54" x2="319.6" y2="413.54" stroke="#000" stroke-width="1" />
<line x1="317.6" y1="409.4" x2="319.6" y2="409.4" stroke="#000" stroke-width="1" />
<line x1="317.6" y1="405.82" x2="319.6" y2="405.82" stroke="#000" stroke-width="1" />
<line x1="317.6" y1="402.66" x2="319.6" y2="402.66" stroke="#000" stroke-width="1" />
<line x1="315.6" y1="399.83" x2="319.6" y2="399.83" stroke="#000" stroke-width="1.5" />
<line x1="317.6" y1="381.24" x2="319.6" y2="381.24" stroke="#000" stroke-width="1" />
<line x1="317.6" y1="370.36" x2="319.6" y2="370.36" stroke="#000" stroke-width="1" />
<line x1="317.6" y1="362.65" x2="319.6" y2="362.65" stroke="#000" stroke-width="1" />
<line x1="317.6" y1="356.66" x2="319.6" y2="356.66" stroke="#000" stroke-width="1" />
<line x1="317.6" y1="351.77" x2="319.6" y2="351.77" stroke="#000" stroke-width="1" />
<line x1="317.6" y1="347.63" x2="319.6" y2="347.63" stroke="#000" stroke-width="1" />
<line x1="317.6" y1="344.05" x2="319.6" y2="344.05" stroke="#000" stroke-width="1" />
<line x1="317.6" y1="340.89" x2="319.6" y2="340.89" stroke="#000" stroke-width="1" />
<line x1="315.6" y1="338.07" x2="319.6" y2="338.07" stroke="#000" stroke-width="1.5" />
<line x1="317.6" y1="319.47" x2="319.6" y2="319.47" stroke="#000" stroke-width="1" />
<line x1="317.6" y1="308.6" x2="319.6" y2="308.6" stroke="#000" stroke-width="1" />
<line x1="317.6" y1="300.88" x2="319.6" y2="300.88" stroke="#000" stroke-width="1" />
<line x1="317.6" y1="294.89" x2="319.6" y2="294.89" stroke="#000" stroke-width="1" />
<line x1="317.6" y1="290" x2="319.6" y2="290" stroke="#000" stroke-width="1" />
<line x1="317.6" y1="285.87" x2="319.6" y2="285.87" stroke="#000" stroke-width="1" />
<line x1="317.6" y1="282.29" x2="319.6" y2="282.29" stroke="#000" stroke-width="1" />
<line x1="317.6" y1="279.13" x2="319.6" y2="279.13" stroke="#000" stroke-width="1" />
<line x1="315.6" y1="276.3" x2="319.6" y2="276.3" stroke="#000" stroke-width="1.5" />
<text x="314.4" y="465.2" font-family='"Liberation Sans", sans-serif' font-size="10" font-weight="bold" text-anchor="end">10<tspan font-size="6.8" font-weight="normal" dy="-5">12</tspan></text>
<text x="314.4" y="403.43" font-family='"Liberation Sans", sans-serif' font-size="10" font-weight="bold" text-anchor="end">10<tspan font-size="6.8" font-weight="normal" dy="-5">13</tspan></text>
<text x="314.4" y="341.67" font-family='"Liberation Sans", sans-serif' font-size="10" font-weight="bold" text-anchor="end">10<tspan font-size="6.8" font-weight="normal" dy="-5">14</tspan></text>
<text x="314.4" y="279.9" font-family='"Liberation Sans", sans-serif' font-size="10" font-weight="bold" text-anchor="end">10<tspan font-size="6.8" font-weight="normal" dy="-5">15</tspan></text>
<line x1="504.3" y1="461.6" x2="507.8" y2="461.6" stroke="#000" stroke-width="1.5" />
<text x="509.8" y="464.6" font-family='"Liberation Sans", sans-serif' font-size="11" font-weight="bold" text-anchor="start" fill="#000" >0</text>
<line x1="504.3" y1="420.42" x2="507.8" y2="420.42" stroke="#000" stroke-width="1.5" />
<text x="509.8" y="423.42" font-family='"Liberation Sans", sans-serif' font-size="11" font-weight="bold" text-anchor="start" fill="#000" >40</text>
<line x1="504.3" y1="379.24" x2="507.8" y2="379.24" stroke="#000" stroke-width="1.5" />
<text x="509.8" y="382.24" font-family='"Liberation Sans", sans-serif' font-size="11" font-weight="bold" text-anchor="start" fill="#000" >80</text>
<line x1="504.3" y1="338.07" x2="507.8" y2="338.07" stroke="#000" stroke-width="1.5" />
<text x="509.8" y="341.07" font-family='"Liberation Sans", sans-serif' font-size="11" font-weight="bold" text-anchor="start" fill="#000" >120</text>
<line x1="504.3" y1="296.89" x2="507.8" y2="296.89" stroke="#000" stroke-width="1.5" />
<text x="509.8" y="299.89" font-family='"Liberation Sans", sans-serif' font-size="11" font-weight="bold" text-anchor="start" fill="#000" >160</text>
<line x1="322.3" y1="282.8" x2="340.5" y2="282.8" stroke="#000" stroke-width="1.5" />
<circle cx="331" cy="282.8" r="2.2" fill="#fff" stroke="#555" stroke-width="0.9"/>
<text x="345" y="285.4" font-family='"Liberation Sans", sans-serif' font-size="7.2" font-weight="bold" text-anchor="start" fill="#111" >Trap DOS</text>
<line x1="322.3" y1="292.5" x2="340.5" y2="292.5" stroke="#0000ff" stroke-width="1.5" />
<circle cx="331" cy="292.5" r="2.2" fill="#fff" stroke="#3333ff" stroke-width="0.9"/>
<text x="345" y="295.1" font-family='"Liberation Sans", sans-serif' font-size="7.2" font-weight="bold" text-anchor="start" fill="#111" >Actication Energy</text>
<text x="372.5" y="311.5" font-family='"Liberation Serif", serif' font-size="12" font-weight="bold" text-anchor="middle" fill="#111" >Shallow</text>
<text x="371.5" y="324.3" font-family='"Liberation Serif", serif' font-size="12" font-weight="bold" text-anchor="middle" fill="#111" textLength="61" lengthAdjust="spacingAndGlyphs">&#8722;trap states</text>
<text x="401.8" y="435" font-family='"Liberation Serif", serif' font-size="12" font-weight="bold" text-anchor="middle" fill="#111" >Deep</text>
<text x="400.4" y="447" font-family='"Liberation Serif", serif' font-size="12" font-weight="bold" text-anchor="middle" fill="#111" xml:space="preserve">&#8722;trap  states</text>
<text x="413.8" y="493.5" font-family='"Liberation Serif", serif' font-size="12.9" font-weight="bold" text-anchor="middle" fill="#000" textLength="97.2" lengthAdjust="spacingAndGlyphs">Gate Voltage (V)</text>
<text transform="translate(288.2,375.6) rotate(-90)" font-family='"Liberation Serif", serif' font-size="13.4" font-weight="bold" text-anchor="middle" textLength="152" lengthAdjust="spacingAndGlyphs">Trap Dos (states/eVcm<tspan font-size="9" dy="-5">2</tspan><tspan dy="5">)</tspan></text>
<text transform="translate(545,440.8) rotate(-90)" font-family='"Liberation Serif", serif' font-size="13.2" font-weight="bold" text-anchor="start" textLength="42.4" lengthAdjust="spacingAndGlyphs" >Energy</text>
<text transform="translate(545,392.8) rotate(-90)" font-family='"Liberation Serif", serif' font-size="13.2" font-weight="bold" text-anchor="start" textLength="37.8" lengthAdjust="spacingAndGlyphs" >above</text>
<text transform="translate(545,352) rotate(-90)" font-family='"Liberation Serif", serif' font-size="13.2" font-weight="bold" text-anchor="start" textLength="32.8" lengthAdjust="spacingAndGlyphs" ><tspan font-style="italic">E</tspan><tspan font-style="italic" font-size="8.5" dy="2.5">CBM</tspan></text>
<text transform="translate(545,318.4) rotate(-90)" font-family='"Liberation Serif", serif' font-size="13.2" font-weight="bold" text-anchor="start" textLength="31.4" lengthAdjust="spacingAndGlyphs" >(meV)</text>
</svg>
</body></html>
